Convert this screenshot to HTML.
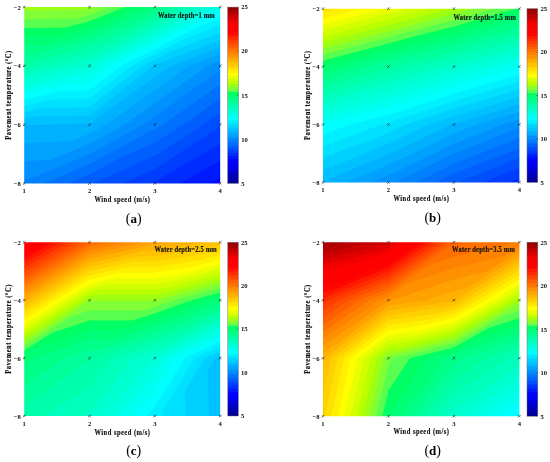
<!DOCTYPE html>
<html><head><meta charset="utf-8"><style>
html,body{margin:0;padding:0;background:#fff;}
body{width:550px;height:462px;overflow:hidden;}
svg{display:block;filter:blur(0.4px);}
.t{font-family:"Liberation Serif",serif;font-size:6.6px;font-weight:bold;fill:#111;}
.l{font-family:"Liberation Serif",serif;font-size:7.25px;font-weight:bold;fill:#111;stroke:#111;stroke-width:0.15px;}
.c{font-family:"Liberation Serif",serif;font-size:14px;fill:#000;}
.cb{font-weight:bold;font-size:13px;}
</style></head><body>
<svg width="550" height="462" viewBox="0 0 550 462">
<g>
<rect x="22.70" y="5.60" width="199.00" height="179.30" fill="#0007ff"/>
<path d="M22.70 5.60 89.53 5.60 22.70 65.87ZM89.53 5.60 89.53 65.87 22.70 65.87ZM89.53 5.60 154.87 5.60 89.53 65.87ZM154.87 5.60 154.87 65.87 89.53 65.87ZM154.87 5.60 221.70 5.60 154.87 65.87ZM221.70 5.60 221.70 65.87 154.87 65.87ZM22.70 65.87 89.53 65.87 22.70 124.63ZM89.53 65.87 89.53 124.63 22.70 124.63ZM89.53 65.87 154.87 65.87 89.53 124.63ZM154.87 65.87 154.87 124.63 89.53 124.63ZM154.87 65.87 221.70 65.87 154.87 124.63ZM221.70 65.87 221.70 124.63 154.87 124.63ZM22.70 124.63 89.53 124.63 22.70 184.90ZM89.53 124.63 89.53 184.90 22.70 184.90ZM89.53 124.63 154.87 124.63 89.53 184.90ZM154.87 124.63 154.87 184.90 89.53 184.90ZM154.87 124.63 221.70 124.63 154.87 184.90ZM221.70 124.63 221.70 176.49 206.93 184.90 154.87 184.90Z" fill="#001aff" stroke="#001aff" stroke-width="0.35"/>
<path d="M22.70 5.60 89.53 5.60 22.70 65.87ZM89.53 5.60 89.53 65.87 22.70 65.87ZM89.53 5.60 154.87 5.60 89.53 65.87ZM154.87 5.60 154.87 65.87 89.53 65.87ZM154.87 5.60 221.70 5.60 154.87 65.87ZM221.70 5.60 221.70 65.87 154.87 65.87ZM22.70 65.87 89.53 65.87 22.70 124.63ZM89.53 65.87 89.53 124.63 22.70 124.63ZM89.53 65.87 154.87 65.87 89.53 124.63ZM154.87 65.87 154.87 124.63 89.53 124.63ZM154.87 65.87 221.70 65.87 154.87 124.63ZM221.70 65.87 221.70 124.63 154.87 124.63ZM22.70 124.63 89.53 124.63 22.70 184.90ZM89.53 124.63 89.53 184.90 22.70 184.90ZM89.53 124.63 154.87 124.63 89.53 184.90ZM154.87 124.63 154.87 184.90 89.53 184.90ZM154.87 124.63 221.70 124.63 154.87 184.90ZM221.70 124.63 221.70 159.69 177.45 184.90 154.87 184.90Z" fill="#002cff" stroke="#002cff" stroke-width="0.35"/>
<path d="M22.70 5.60 89.53 5.60 22.70 65.87ZM89.53 5.60 89.53 65.87 22.70 65.87ZM89.53 5.60 154.87 5.60 89.53 65.87ZM154.87 5.60 154.87 65.87 89.53 65.87ZM154.87 5.60 221.70 5.60 154.87 65.87ZM221.70 5.60 221.70 65.87 154.87 65.87ZM22.70 65.87 89.53 65.87 22.70 124.63ZM89.53 65.87 89.53 124.63 22.70 124.63ZM89.53 65.87 154.87 65.87 89.53 124.63ZM154.87 65.87 154.87 124.63 89.53 124.63ZM154.87 65.87 221.70 65.87 154.87 124.63ZM221.70 65.87 221.70 124.63 154.87 124.63ZM22.70 124.63 89.53 124.63 22.70 184.90ZM89.53 124.63 89.53 184.90 22.70 184.90ZM89.53 124.63 154.87 124.63 89.53 184.90ZM154.87 124.63 154.87 181.83 147.93 184.90 89.53 184.90ZM154.87 124.63 221.70 124.63 166.72 174.21 154.87 181.83ZM221.70 124.63 221.70 142.89 166.72 174.21Z" fill="#003eff" stroke="#003eff" stroke-width="0.35"/>
<path d="M22.70 5.60 89.53 5.60 22.70 65.87ZM89.53 5.60 89.53 65.87 22.70 65.87ZM89.53 5.60 154.87 5.60 89.53 65.87ZM154.87 5.60 154.87 65.87 89.53 65.87ZM154.87 5.60 221.70 5.60 154.87 65.87ZM221.70 5.60 221.70 65.87 154.87 65.87ZM22.70 65.87 89.53 65.87 22.70 124.63ZM89.53 65.87 89.53 124.63 22.70 124.63ZM89.53 65.87 154.87 65.87 89.53 124.63ZM154.87 65.87 154.87 124.63 89.53 124.63ZM154.87 65.87 221.70 65.87 154.87 124.63ZM221.70 65.87 221.70 124.63 154.87 124.63ZM22.70 124.63 89.53 124.63 22.70 184.90ZM89.53 124.63 89.53 184.90 22.70 184.90ZM89.53 124.63 154.87 124.63 89.53 184.90ZM154.87 124.63 154.87 168.71 118.33 184.90 89.53 184.90ZM154.87 124.63 221.70 124.63 217.32 128.58 154.87 168.71ZM221.70 124.63 221.70 126.09 217.32 128.58Z" fill="#004fff" stroke="#004fff" stroke-width="0.35"/>
<path d="M22.70 5.60 89.53 5.60 22.70 65.87ZM89.53 5.60 89.53 65.87 22.70 65.87ZM89.53 5.60 154.87 5.60 89.53 65.87ZM154.87 5.60 154.87 65.87 89.53 65.87ZM154.87 5.60 221.70 5.60 154.87 65.87ZM221.70 5.60 221.70 65.87 154.87 65.87ZM22.70 65.87 89.53 65.87 22.70 124.63ZM89.53 65.87 89.53 124.63 22.70 124.63ZM89.53 65.87 154.87 65.87 89.53 124.63ZM154.87 65.87 154.87 124.63 89.53 124.63ZM154.87 65.87 221.70 65.87 154.87 124.63ZM221.70 65.87 221.70 111.71 203.05 124.63 154.87 124.63ZM22.70 124.63 89.53 124.63 22.70 184.90ZM89.53 124.63 89.53 184.62 88.86 184.90 22.70 184.90ZM89.53 124.63 154.87 124.63 90.27 184.22 89.53 184.62ZM154.87 124.63 154.87 155.59 90.27 184.22ZM154.87 124.63 203.05 124.63 154.87 155.59Z" fill="#005fff" stroke="#005fff" stroke-width="0.35"/>
<path d="M22.70 5.60 89.53 5.60 22.70 65.87ZM89.53 5.60 89.53 65.87 22.70 65.87ZM89.53 5.60 154.87 5.60 89.53 65.87ZM154.87 5.60 154.87 65.87 89.53 65.87ZM154.87 5.60 221.70 5.60 154.87 65.87ZM221.70 5.60 221.70 65.87 154.87 65.87ZM22.70 65.87 89.53 65.87 22.70 124.63ZM89.53 65.87 89.53 124.63 22.70 124.63ZM89.53 65.87 154.87 65.87 89.53 124.63ZM154.87 65.87 154.87 124.63 89.53 124.63ZM154.87 65.87 221.70 65.87 154.87 124.63ZM221.70 65.87 221.70 97.55 182.63 124.63 154.87 124.63ZM22.70 124.63 89.53 124.63 22.70 184.90ZM89.53 124.63 89.53 174.42 63.94 184.90 22.70 184.90ZM89.53 124.63 154.87 124.63 117.64 158.97 89.53 174.42ZM154.87 124.63 154.87 142.47 117.64 158.97ZM154.87 124.63 182.63 124.63 154.87 142.47Z" fill="#0070ff" stroke="#0070ff" stroke-width="0.35"/>
<path d="M22.70 5.60 89.53 5.60 22.70 65.87ZM89.53 5.60 89.53 65.87 22.70 65.87ZM89.53 5.60 154.87 5.60 89.53 65.87ZM154.87 5.60 154.87 65.87 89.53 65.87ZM154.87 5.60 221.70 5.60 154.87 65.87ZM221.70 5.60 221.70 65.87 154.87 65.87ZM22.70 65.87 89.53 65.87 22.70 124.63ZM89.53 65.87 89.53 124.63 22.70 124.63ZM89.53 65.87 154.87 65.87 89.53 124.63ZM154.87 65.87 154.87 124.63 89.53 124.63ZM154.87 65.87 221.70 65.87 154.87 124.63ZM221.70 65.87 221.70 83.40 162.22 124.63 154.87 124.63ZM22.70 124.63 89.53 124.63 22.70 184.90ZM89.53 124.63 89.53 164.22 39.01 184.90 22.70 184.90ZM89.53 124.63 154.87 124.63 145.01 133.72 89.53 164.22ZM154.87 124.63 154.87 129.36 145.01 133.72ZM154.87 124.63 162.22 124.63 154.87 129.36Z" fill="#0081ff" stroke="#0081ff" stroke-width="0.35"/>
<path d="M22.70 5.60 89.53 5.60 22.70 65.87ZM89.53 5.60 89.53 65.87 22.70 65.87ZM89.53 5.60 154.87 5.60 89.53 65.87ZM154.87 5.60 154.87 65.87 89.53 65.87ZM154.87 5.60 221.70 5.60 154.87 65.87ZM221.70 5.60 221.70 65.87 154.87 65.87ZM22.70 65.87 89.53 65.87 22.70 124.63ZM89.53 65.87 89.53 124.63 22.70 124.63ZM89.53 65.87 154.87 65.87 89.53 124.63ZM154.87 65.87 154.87 116.24 142.99 124.63 89.53 124.63ZM154.87 65.87 221.70 65.87 203.52 81.85 154.87 116.24ZM221.70 65.87 221.70 69.25 203.52 81.85ZM22.70 124.63 89.53 124.63 29.86 178.44 22.70 178.75ZM89.53 124.63 89.53 154.02 29.86 178.44ZM89.53 124.63 142.99 124.63 89.53 154.02Z" fill="#0091ff" stroke="#0091ff" stroke-width="0.35"/>
<path d="M22.70 5.60 89.53 5.60 22.70 65.87ZM89.53 5.60 89.53 65.87 22.70 65.87ZM89.53 5.60 154.87 5.60 89.53 65.87ZM154.87 5.60 154.87 65.87 89.53 65.87ZM154.87 5.60 221.70 5.60 154.87 65.87ZM221.70 5.60 221.70 60.45 207.58 65.87 154.87 65.87ZM22.70 65.87 89.53 65.87 22.70 124.63ZM89.53 65.87 89.53 124.63 22.70 124.63ZM89.53 65.87 154.87 65.87 89.53 124.63ZM154.87 65.87 154.87 103.12 124.43 124.63 89.53 124.63ZM154.87 65.87 207.58 65.87 154.87 103.12ZM22.70 124.63 89.53 124.63 50.58 159.76 22.70 160.97ZM89.53 124.63 89.53 143.81 50.58 159.76ZM89.53 124.63 124.43 124.63 89.53 143.81Z" fill="#00a1ff" stroke="#00a1ff" stroke-width="0.35"/>
<path d="M22.70 5.60 89.53 5.60 22.70 65.87ZM89.53 5.60 89.53 65.87 22.70 65.87ZM89.53 5.60 154.87 5.60 89.53 65.87ZM154.87 5.60 154.87 65.87 89.53 65.87ZM154.87 5.60 221.70 5.60 154.87 65.87ZM221.70 5.60 221.70 53.33 189.02 65.87 154.87 65.87ZM22.70 65.87 89.53 65.87 22.70 124.63ZM89.53 65.87 89.53 124.63 22.70 124.63ZM89.53 65.87 154.87 65.87 89.53 124.63ZM154.87 65.87 154.87 90.00 105.87 124.63 89.53 124.63ZM154.87 65.87 189.02 65.87 154.87 90.00ZM22.70 124.63 89.53 124.63 71.30 141.08 22.70 143.19ZM89.53 124.63 89.53 133.61 71.30 141.08ZM89.53 124.63 105.87 124.63 89.53 133.61Z" fill="#00b1ff" stroke="#00b1ff" stroke-width="0.35"/>
<path d="M22.70 5.60 89.53 5.60 22.70 65.87ZM89.53 5.60 89.53 65.87 22.70 65.87ZM89.53 5.60 154.87 5.60 89.53 65.87ZM154.87 5.60 154.87 65.87 89.53 65.87ZM154.87 5.60 221.70 5.60 154.87 65.87ZM221.70 5.60 221.70 46.21 170.46 65.87 154.87 65.87ZM22.70 65.87 89.53 65.87 22.70 124.63ZM89.53 65.87 89.53 123.63 40.53 124.63 22.70 124.63ZM89.53 65.87 154.87 65.87 97.70 117.29 89.53 123.63ZM154.87 65.87 154.87 76.89 97.70 117.29ZM154.87 65.87 170.46 65.87 154.87 76.89ZM22.70 124.63 40.53 124.63 22.70 125.41Z" fill="#00c1ff" stroke="#00c1ff" stroke-width="0.35"/>
<path d="M22.70 5.60 89.53 5.60 22.70 65.87ZM89.53 5.60 89.53 65.87 22.70 65.87ZM89.53 5.60 154.87 5.60 89.53 65.87ZM154.87 5.60 154.87 65.03 153.15 65.87 89.53 65.87ZM154.87 5.60 221.70 5.60 157.07 63.88 154.87 65.03ZM221.70 5.60 221.70 39.09 157.07 63.88ZM22.70 65.87 89.53 65.87 31.99 116.46 22.70 118.81ZM89.53 65.87 89.53 115.28 31.99 116.46ZM89.53 65.87 153.15 65.87 89.53 115.28Z" fill="#00d0ff" stroke="#00d0ff" stroke-width="0.35"/>
<path d="M22.70 5.60 89.53 5.60 22.70 65.87ZM89.53 5.60 89.53 65.87 22.70 65.87ZM89.53 5.60 154.87 5.60 89.53 65.87ZM154.87 5.60 154.87 59.78 142.40 65.87 89.53 65.87ZM154.87 5.60 221.70 5.60 170.81 51.49 154.87 59.78ZM221.70 5.60 221.70 31.97 170.81 51.49ZM22.70 65.87 89.53 65.87 41.71 107.91 22.70 112.73ZM89.53 65.87 89.53 106.94 41.71 107.91ZM89.53 65.87 142.40 65.87 89.53 106.94Z" fill="#00e0ff" stroke="#00e0ff" stroke-width="0.35"/>
<path d="M22.70 5.60 89.53 5.60 22.70 65.87ZM89.53 5.60 89.53 65.87 22.70 65.87ZM89.53 5.60 154.87 5.60 89.53 65.87ZM154.87 5.60 154.87 54.53 131.66 65.87 89.53 65.87ZM154.87 5.60 221.70 5.60 184.55 39.10 154.87 54.53ZM221.70 5.60 221.70 24.85 184.55 39.10ZM22.70 65.87 89.53 65.87 51.43 99.37 22.70 106.65ZM89.53 65.87 89.53 98.59 51.43 99.37ZM89.53 65.87 131.66 65.87 89.53 98.59Z" fill="#00f0ff" stroke="#00f0ff" stroke-width="0.35"/>
<path d="M22.70 5.60 89.53 5.60 22.70 65.87ZM89.53 5.60 89.53 65.87 22.70 65.87ZM89.53 5.60 154.87 5.60 89.53 65.87ZM154.87 5.60 154.87 49.29 120.91 65.87 89.53 65.87ZM154.87 5.60 221.70 5.60 198.29 26.71 154.87 49.29ZM221.70 5.60 221.70 17.73 198.29 26.71ZM22.70 65.87 89.53 65.87 61.15 90.82 22.70 100.56ZM89.53 65.87 89.53 90.24 61.15 90.82ZM89.53 65.87 120.91 65.87 89.53 90.24Z" fill="#00ffff" stroke="#00ffff" stroke-width="0.35"/>
<path d="M22.70 5.60 89.53 5.60 22.70 65.87ZM89.53 5.60 89.53 65.87 22.70 65.87ZM89.53 5.60 154.87 5.60 89.53 65.87ZM154.87 5.60 154.87 44.04 110.16 65.87 89.53 65.87ZM154.87 5.60 221.70 5.60 212.03 14.32 154.87 44.04ZM221.70 5.60 221.70 10.61 212.03 14.32ZM22.70 65.87 89.53 65.87 70.87 82.28 22.70 94.48ZM89.53 65.87 89.53 81.89 70.87 82.28ZM89.53 65.87 110.16 65.87 89.53 81.89Z" fill="#00ffef" stroke="#00ffef" stroke-width="0.35"/>
<path d="M22.70 5.60 89.53 5.60 22.70 65.87ZM89.53 5.60 89.53 65.87 22.70 65.87ZM89.53 5.60 154.87 5.60 89.53 65.87ZM154.87 5.60 154.87 38.79 99.42 65.87 89.53 65.87ZM154.87 5.60 218.71 5.60 154.87 38.79ZM22.70 65.87 89.53 65.87 80.59 73.73 22.70 88.39ZM89.53 65.87 89.53 73.55 80.59 73.73ZM89.53 65.87 99.42 65.87 89.53 73.55Z" fill="#00ffdf" stroke="#00ffdf" stroke-width="0.35"/>
<path d="M22.70 5.60 89.53 5.60 22.70 65.87ZM89.53 5.60 89.53 65.36 87.61 65.87 22.70 65.87ZM89.53 5.60 154.87 5.60 90.50 64.97 89.53 65.36ZM154.87 5.60 154.87 33.54 90.50 64.97ZM154.87 5.60 208.62 5.60 154.87 33.54ZM22.70 65.87 87.61 65.87 22.70 82.31Z" fill="#00ffce" stroke="#00ffce" stroke-width="0.35"/>
<path d="M22.70 5.60 89.53 5.60 22.70 65.87ZM89.53 5.60 89.53 59.03 63.59 65.87 22.70 65.87ZM89.53 5.60 154.87 5.60 102.59 53.83 89.53 59.03ZM154.87 5.60 154.87 28.30 102.59 53.83ZM154.87 5.60 198.53 5.60 154.87 28.30ZM22.70 65.87 63.59 65.87 22.70 76.22Z" fill="#00ffbd" stroke="#00ffbd" stroke-width="0.35"/>
<path d="M22.70 5.60 89.53 5.60 22.70 65.87ZM89.53 5.60 89.53 52.69 39.57 65.87 22.70 65.87ZM89.53 5.60 154.87 5.60 114.67 42.68 89.53 52.69ZM154.87 5.60 154.87 23.05 114.67 42.68ZM154.87 5.60 188.43 5.60 154.87 23.05ZM22.70 65.87 39.57 65.87 22.70 70.14Z" fill="#00ffac" stroke="#00ffac" stroke-width="0.35"/>
<path d="M22.70 5.60 89.53 5.60 25.65 63.20 22.70 63.24ZM89.53 5.60 89.53 46.36 25.65 63.20ZM89.53 5.60 154.87 5.60 126.76 31.53 89.53 46.36ZM154.87 5.60 154.87 17.80 126.76 31.53ZM154.87 5.60 178.34 5.60 154.87 17.80Z" fill="#00ff9b" stroke="#00ff9b" stroke-width="0.35"/>
<path d="M22.70 5.60 89.53 5.60 35.58 54.25 22.70 54.42ZM89.53 5.60 89.53 40.03 35.58 54.25ZM89.53 5.60 154.87 5.60 138.84 20.38 89.53 40.03ZM154.87 5.60 154.87 12.56 138.84 20.38ZM154.87 5.60 168.25 5.60 154.87 12.56Z" fill="#00ff89" stroke="#00ff89" stroke-width="0.35"/>
<path d="M22.70 5.60 89.53 5.60 45.50 45.31 22.70 45.60ZM89.53 5.60 89.53 33.70 45.50 45.31ZM89.53 5.60 154.87 5.60 150.93 9.23 89.53 33.70ZM154.87 5.60 154.87 7.31 150.93 9.23ZM154.87 5.60 158.16 5.60 154.87 7.31Z" fill="#00ff77" stroke="#00ff77" stroke-width="0.35"/>
<path d="M22.70 5.60 89.53 5.60 55.43 36.36 22.70 36.78ZM89.53 5.60 89.53 27.36 55.43 36.36ZM89.53 5.60 144.15 5.60 89.53 27.36Z" fill="#00ff64" stroke="#00ff64" stroke-width="0.35"/>
<path d="M22.70 5.60 89.53 5.60 65.35 27.41 22.70 27.95ZM89.53 5.60 89.53 21.03 65.35 27.41ZM89.53 5.60 128.26 5.60 89.53 21.03Z" fill="#59ff4f" stroke="#59ff4f" stroke-width="0.35"/>
<path d="M22.70 5.60 89.53 5.60 75.27 18.46 22.70 19.13ZM89.53 5.60 89.53 14.70 75.27 18.46ZM89.53 5.60 112.37 5.60 89.53 14.70Z" fill="#80ff37" stroke="#80ff37" stroke-width="0.35"/>
<path d="M22.70 5.60 89.53 5.60 85.20 9.51 22.70 10.31ZM89.53 5.60 89.53 8.37 85.20 9.51ZM89.53 5.60 96.48 5.60 89.53 8.37Z" fill="#9fff13" stroke="#9fff13" stroke-width="0.35"/>
</g>
<path fill="#fff" fill-rule="evenodd" d="M21.20 4.10H223.20V186.40H21.20ZM24.20 7.10H220.20V183.40H24.20Z"/>
<path d="M22.90 5.80L25.50 8.40" stroke="#333" stroke-width="0.45"/><path d="M22.90 8.40L25.50 5.80" stroke="#111" stroke-width="0.65"/>
<path d="M88.23 5.80L90.83 8.40" stroke="#333" stroke-width="0.45"/><path d="M88.23 8.40L90.83 5.80" stroke="#111" stroke-width="0.65"/>
<path d="M153.57 5.80L156.17 8.40" stroke="#333" stroke-width="0.45"/><path d="M153.57 8.40L156.17 5.80" stroke="#111" stroke-width="0.65"/>
<path d="M218.90 5.80L221.50 8.40" stroke="#333" stroke-width="0.45"/><path d="M218.90 8.40L221.50 5.80" stroke="#111" stroke-width="0.65"/>
<path d="M22.90 64.57L25.50 67.17" stroke="#333" stroke-width="0.45"/><path d="M22.90 67.17L25.50 64.57" stroke="#111" stroke-width="0.65"/>
<path d="M88.23 64.57L90.83 67.17" stroke="#333" stroke-width="0.45"/><path d="M88.23 67.17L90.83 64.57" stroke="#111" stroke-width="0.65"/>
<path d="M153.57 64.57L156.17 67.17" stroke="#333" stroke-width="0.45"/><path d="M153.57 67.17L156.17 64.57" stroke="#111" stroke-width="0.65"/>
<path d="M218.90 64.57L221.50 67.17" stroke="#333" stroke-width="0.45"/><path d="M218.90 67.17L221.50 64.57" stroke="#111" stroke-width="0.65"/>
<path d="M22.90 123.33L25.50 125.93" stroke="#333" stroke-width="0.45"/><path d="M22.90 125.93L25.50 123.33" stroke="#111" stroke-width="0.65"/>
<path d="M88.23 123.33L90.83 125.93" stroke="#333" stroke-width="0.45"/><path d="M88.23 125.93L90.83 123.33" stroke="#111" stroke-width="0.65"/>
<path d="M153.57 123.33L156.17 125.93" stroke="#333" stroke-width="0.45"/><path d="M153.57 125.93L156.17 123.33" stroke="#111" stroke-width="0.65"/>
<path d="M218.90 123.33L221.50 125.93" stroke="#333" stroke-width="0.45"/><path d="M218.90 125.93L221.50 123.33" stroke="#111" stroke-width="0.65"/>
<path d="M22.90 182.10L25.50 184.70" stroke="#333" stroke-width="0.45"/><path d="M22.90 184.70L25.50 182.10" stroke="#111" stroke-width="0.65"/>
<path d="M88.23 182.10L90.83 184.70" stroke="#333" stroke-width="0.45"/><path d="M88.23 184.70L90.83 182.10" stroke="#111" stroke-width="0.65"/>
<path d="M153.57 182.10L156.17 184.70" stroke="#333" stroke-width="0.45"/><path d="M153.57 184.70L156.17 182.10" stroke="#111" stroke-width="0.65"/>
<path d="M218.90 182.10L221.50 184.70" stroke="#333" stroke-width="0.45"/><path d="M218.90 184.70L221.50 182.10" stroke="#111" stroke-width="0.65"/>
<defs><linearGradient id="cb227" x1="0" y1="0" x2="0" y2="1"><stop offset="0.0000%" stop-color="#960000"/><stop offset="1.5625%" stop-color="#960000"/><stop offset="1.5625%" stop-color="#a90000"/><stop offset="3.1250%" stop-color="#a90000"/><stop offset="3.1250%" stop-color="#bb0000"/><stop offset="4.6875%" stop-color="#bb0000"/><stop offset="4.6875%" stop-color="#cd0000"/><stop offset="6.2500%" stop-color="#cd0000"/><stop offset="6.2500%" stop-color="#e00000"/><stop offset="7.8125%" stop-color="#e00000"/><stop offset="7.8125%" stop-color="#f20000"/><stop offset="9.3750%" stop-color="#f20000"/><stop offset="9.3750%" stop-color="#ff0000"/><stop offset="10.9375%" stop-color="#ff0000"/><stop offset="10.9375%" stop-color="#ff0000"/><stop offset="12.5000%" stop-color="#ff0000"/><stop offset="12.5000%" stop-color="#ff0000"/><stop offset="14.0625%" stop-color="#ff0000"/><stop offset="14.0625%" stop-color="#ff0700"/><stop offset="15.6250%" stop-color="#ff0700"/><stop offset="15.6250%" stop-color="#ff1a00"/><stop offset="17.1875%" stop-color="#ff1a00"/><stop offset="17.1875%" stop-color="#ff2c00"/><stop offset="18.7500%" stop-color="#ff2c00"/><stop offset="18.7500%" stop-color="#ff3e00"/><stop offset="20.3125%" stop-color="#ff3e00"/><stop offset="20.3125%" stop-color="#ff4f00"/><stop offset="21.8750%" stop-color="#ff4f00"/><stop offset="21.8750%" stop-color="#ff5f00"/><stop offset="23.4375%" stop-color="#ff5f00"/><stop offset="23.4375%" stop-color="#ff7000"/><stop offset="25.0000%" stop-color="#ff7000"/><stop offset="25.0000%" stop-color="#ff8100"/><stop offset="26.5625%" stop-color="#ff8100"/><stop offset="26.5625%" stop-color="#ff9100"/><stop offset="28.1250%" stop-color="#ff9100"/><stop offset="28.1250%" stop-color="#ffa100"/><stop offset="29.6875%" stop-color="#ffa100"/><stop offset="29.6875%" stop-color="#ffb100"/><stop offset="31.2500%" stop-color="#ffb100"/><stop offset="31.2500%" stop-color="#ffc100"/><stop offset="32.8125%" stop-color="#ffc100"/><stop offset="32.8125%" stop-color="#ffd000"/><stop offset="34.3750%" stop-color="#ffd000"/><stop offset="34.3750%" stop-color="#ffe000"/><stop offset="35.9375%" stop-color="#ffe000"/><stop offset="35.9375%" stop-color="#fff000"/><stop offset="37.5000%" stop-color="#fff000"/><stop offset="37.5000%" stop-color="#ffff00"/><stop offset="39.0625%" stop-color="#ffff00"/><stop offset="39.0625%" stop-color="#e9ff00"/><stop offset="40.6250%" stop-color="#e9ff00"/><stop offset="40.6250%" stop-color="#d2ff00"/><stop offset="42.1875%" stop-color="#d2ff00"/><stop offset="42.1875%" stop-color="#b9ff00"/><stop offset="43.7500%" stop-color="#b9ff00"/><stop offset="43.7500%" stop-color="#9fff13"/><stop offset="45.3125%" stop-color="#9fff13"/><stop offset="45.3125%" stop-color="#80ff37"/><stop offset="46.8750%" stop-color="#80ff37"/><stop offset="46.8750%" stop-color="#59ff4f"/><stop offset="48.4375%" stop-color="#59ff4f"/><stop offset="48.4375%" stop-color="#00ff64"/><stop offset="50.0000%" stop-color="#00ff64"/><stop offset="50.0000%" stop-color="#00ff77"/><stop offset="51.5625%" stop-color="#00ff77"/><stop offset="51.5625%" stop-color="#00ff89"/><stop offset="53.1250%" stop-color="#00ff89"/><stop offset="53.1250%" stop-color="#00ff9b"/><stop offset="54.6875%" stop-color="#00ff9b"/><stop offset="54.6875%" stop-color="#00ffac"/><stop offset="56.2500%" stop-color="#00ffac"/><stop offset="56.2500%" stop-color="#00ffbd"/><stop offset="57.8125%" stop-color="#00ffbd"/><stop offset="57.8125%" stop-color="#00ffce"/><stop offset="59.3750%" stop-color="#00ffce"/><stop offset="59.3750%" stop-color="#00ffdf"/><stop offset="60.9375%" stop-color="#00ffdf"/><stop offset="60.9375%" stop-color="#00ffef"/><stop offset="62.5000%" stop-color="#00ffef"/><stop offset="62.5000%" stop-color="#00ffff"/><stop offset="64.0625%" stop-color="#00ffff"/><stop offset="64.0625%" stop-color="#00f0ff"/><stop offset="65.6250%" stop-color="#00f0ff"/><stop offset="65.6250%" stop-color="#00e0ff"/><stop offset="67.1875%" stop-color="#00e0ff"/><stop offset="67.1875%" stop-color="#00d0ff"/><stop offset="68.7500%" stop-color="#00d0ff"/><stop offset="68.7500%" stop-color="#00c1ff"/><stop offset="70.3125%" stop-color="#00c1ff"/><stop offset="70.3125%" stop-color="#00b1ff"/><stop offset="71.8750%" stop-color="#00b1ff"/><stop offset="71.8750%" stop-color="#00a1ff"/><stop offset="73.4375%" stop-color="#00a1ff"/><stop offset="73.4375%" stop-color="#0091ff"/><stop offset="75.0000%" stop-color="#0091ff"/><stop offset="75.0000%" stop-color="#0081ff"/><stop offset="76.5625%" stop-color="#0081ff"/><stop offset="76.5625%" stop-color="#0070ff"/><stop offset="78.1250%" stop-color="#0070ff"/><stop offset="78.1250%" stop-color="#005fff"/><stop offset="79.6875%" stop-color="#005fff"/><stop offset="79.6875%" stop-color="#004fff"/><stop offset="81.2500%" stop-color="#004fff"/><stop offset="81.2500%" stop-color="#003eff"/><stop offset="82.8125%" stop-color="#003eff"/><stop offset="82.8125%" stop-color="#002cff"/><stop offset="84.3750%" stop-color="#002cff"/><stop offset="84.3750%" stop-color="#001aff"/><stop offset="85.9375%" stop-color="#001aff"/><stop offset="85.9375%" stop-color="#0007ff"/><stop offset="87.5000%" stop-color="#0007ff"/><stop offset="87.5000%" stop-color="#0000ff"/><stop offset="89.0625%" stop-color="#0000ff"/><stop offset="89.0625%" stop-color="#0000f4"/><stop offset="90.6250%" stop-color="#0000f4"/><stop offset="90.6250%" stop-color="#0000e4"/><stop offset="92.1875%" stop-color="#0000e4"/><stop offset="92.1875%" stop-color="#0000d4"/><stop offset="93.7500%" stop-color="#0000d4"/><stop offset="93.7500%" stop-color="#0000c4"/><stop offset="95.3125%" stop-color="#0000c4"/><stop offset="95.3125%" stop-color="#0000b4"/><stop offset="96.8750%" stop-color="#0000b4"/><stop offset="96.8750%" stop-color="#0000a4"/><stop offset="98.4375%" stop-color="#0000a4"/><stop offset="98.4375%" stop-color="#000094"/><stop offset="100.0000%" stop-color="#000094"/></linearGradient></defs>
<rect x="227.70" y="7.10" width="10.80" height="176.30" fill="url(#cb227)"/>
<rect x="227.70" y="7.10" width="10.80" height="176.30" fill="none" stroke="#666" stroke-width="0.45"/>
<text x="241.20" y="185.70" class="t">5</text>
<path d="M238.50 139.32h-1.4" stroke="#333" stroke-width="0.5"/>
<text x="241.20" y="141.62" class="t">10</text>
<path d="M238.50 95.25h-1.4" stroke="#333" stroke-width="0.5"/>
<text x="241.20" y="97.55" class="t">15</text>
<path d="M238.50 51.17h-1.4" stroke="#333" stroke-width="0.5"/>
<text x="241.20" y="53.47" class="t">20</text>
<text x="241.20" y="9.40" class="t">25</text>
<text x="24.20" y="193.20" class="t" text-anchor="middle">1</text>
<text x="89.53" y="193.20" class="t" text-anchor="middle">2</text>
<text x="154.87" y="193.20" class="t" text-anchor="middle">3</text>
<text x="220.20" y="193.20" class="t" text-anchor="middle">4</text>
<text x="20.80" y="9.70" class="t" text-anchor="end">−2</text>
<text x="20.80" y="68.47" class="t" text-anchor="end">−4</text>
<text x="20.80" y="127.23" class="t" text-anchor="end">−6</text>
<text x="20.80" y="186.00" class="t" text-anchor="end">−8</text>
<text transform="translate(122.20 202.10) scale(0.900 1)" class="l" text-anchor="middle" textLength="61.67" lengthAdjust="spacing">Wind speed (m/s)</text>
<text transform="translate(11.00 95.25) rotate(-90) scale(0.900 1)" class="l" text-anchor="middle" textLength="98.89" lengthAdjust="spacing">Pavement temperature (°C)</text>
<text transform="translate(214.70 17.70) scale(0.900 1)" class="l" text-anchor="end" textLength="63.11" lengthAdjust="spacing">Water depth=1 mm</text>
<text x="133.70" y="222.90" class="c" text-anchor="middle">(<tspan class="cb">a</tspan>)</text>
<g>
<rect x="321.50" y="7.20" width="199.40" height="176.70" fill="#002cff"/>
<path d="M321.50 7.20 388.47 7.20 321.50 66.60ZM388.47 7.20 388.47 66.60 321.50 66.60ZM388.47 7.20 453.93 7.20 388.47 66.60ZM453.93 7.20 453.93 66.60 388.47 66.60ZM453.93 7.20 520.90 7.20 453.93 66.60ZM520.90 7.20 520.90 66.60 453.93 66.60ZM321.50 66.60 388.47 66.60 321.50 124.50ZM388.47 66.60 388.47 124.50 321.50 124.50ZM388.47 66.60 453.93 66.60 388.47 124.50ZM453.93 66.60 453.93 124.50 388.47 124.50ZM453.93 66.60 520.90 66.60 453.93 124.50ZM520.90 66.60 520.90 124.50 453.93 124.50ZM321.50 124.50 388.47 124.50 321.50 183.90ZM388.47 124.50 388.47 183.90 321.50 183.90ZM388.47 124.50 453.93 124.50 388.47 183.90ZM453.93 124.50 453.93 183.90 388.47 183.90ZM453.93 124.50 520.90 124.50 453.93 183.90ZM520.90 124.50 520.90 177.39 504.33 183.90 453.93 183.90Z" fill="#003eff" stroke="#003eff" stroke-width="0.35"/>
<path d="M321.50 7.20 388.47 7.20 321.50 66.60ZM388.47 7.20 388.47 66.60 321.50 66.60ZM388.47 7.20 453.93 7.20 388.47 66.60ZM453.93 7.20 453.93 66.60 388.47 66.60ZM453.93 7.20 520.90 7.20 453.93 66.60ZM520.90 7.20 520.90 66.60 453.93 66.60ZM321.50 66.60 388.47 66.60 321.50 124.50ZM388.47 66.60 388.47 124.50 321.50 124.50ZM388.47 66.60 453.93 66.60 388.47 124.50ZM453.93 66.60 453.93 124.50 388.47 124.50ZM453.93 66.60 520.90 66.60 453.93 124.50ZM520.90 66.60 520.90 124.50 453.93 124.50ZM321.50 124.50 388.47 124.50 321.50 183.90ZM388.47 124.50 388.47 183.90 321.50 183.90ZM388.47 124.50 453.93 124.50 388.47 183.90ZM453.93 124.50 453.93 183.90 388.47 183.90ZM453.93 124.50 520.90 124.50 453.93 183.90ZM520.90 124.50 520.90 167.34 478.76 183.90 453.93 183.90Z" fill="#004fff" stroke="#004fff" stroke-width="0.35"/>
<path d="M321.50 7.20 388.47 7.20 321.50 66.60ZM388.47 7.20 388.47 66.60 321.50 66.60ZM388.47 7.20 453.93 7.20 388.47 66.60ZM453.93 7.20 453.93 66.60 388.47 66.60ZM453.93 7.20 520.90 7.20 453.93 66.60ZM520.90 7.20 520.90 66.60 453.93 66.60ZM321.50 66.60 388.47 66.60 321.50 124.50ZM388.47 66.60 388.47 124.50 321.50 124.50ZM388.47 66.60 453.93 66.60 388.47 124.50ZM453.93 66.60 453.93 124.50 388.47 124.50ZM453.93 66.60 520.90 66.60 453.93 124.50ZM520.90 66.60 520.90 124.50 453.93 124.50ZM321.50 124.50 388.47 124.50 321.50 183.90ZM388.47 124.50 388.47 183.90 321.50 183.90ZM388.47 124.50 453.93 124.50 388.47 183.90ZM453.93 124.50 453.93 183.61 453.34 183.90 388.47 183.90ZM453.93 124.50 520.90 124.50 454.53 183.37 453.93 183.61ZM520.90 124.50 520.90 157.28 454.53 183.37Z" fill="#005fff" stroke="#005fff" stroke-width="0.35"/>
<path d="M321.50 7.20 388.47 7.20 321.50 66.60ZM388.47 7.20 388.47 66.60 321.50 66.60ZM388.47 7.20 453.93 7.20 388.47 66.60ZM453.93 7.20 453.93 66.60 388.47 66.60ZM453.93 7.20 520.90 7.20 453.93 66.60ZM520.90 7.20 520.90 66.60 453.93 66.60ZM321.50 66.60 388.47 66.60 321.50 124.50ZM388.47 66.60 388.47 124.50 321.50 124.50ZM388.47 66.60 453.93 66.60 388.47 124.50ZM453.93 66.60 453.93 124.50 388.47 124.50ZM453.93 66.60 520.90 66.60 453.93 124.50ZM520.90 66.60 520.90 124.50 453.93 124.50ZM321.50 124.50 388.47 124.50 321.50 183.90ZM388.47 124.50 388.47 183.90 321.50 183.90ZM388.47 124.50 453.93 124.50 388.47 183.90ZM453.93 124.50 453.93 173.55 432.93 183.90 388.47 183.90ZM453.93 124.50 520.90 124.50 474.88 165.32 453.93 173.55ZM520.90 124.50 520.90 147.23 474.88 165.32Z" fill="#0070ff" stroke="#0070ff" stroke-width="0.35"/>
<path d="M321.50 7.20 388.47 7.20 321.50 66.60ZM388.47 7.20 388.47 66.60 321.50 66.60ZM388.47 7.20 453.93 7.20 388.47 66.60ZM453.93 7.20 453.93 66.60 388.47 66.60ZM453.93 7.20 520.90 7.20 453.93 66.60ZM520.90 7.20 520.90 66.60 453.93 66.60ZM321.50 66.60 388.47 66.60 321.50 124.50ZM388.47 66.60 388.47 124.50 321.50 124.50ZM388.47 66.60 453.93 66.60 388.47 124.50ZM453.93 66.60 453.93 124.50 388.47 124.50ZM453.93 66.60 520.90 66.60 453.93 124.50ZM520.90 66.60 520.90 124.50 453.93 124.50ZM321.50 124.50 388.47 124.50 321.50 183.90ZM388.47 124.50 388.47 183.90 321.50 183.90ZM388.47 124.50 453.93 124.50 388.47 183.90ZM453.93 124.50 453.93 163.50 412.53 183.90 388.47 183.90ZM453.93 124.50 520.90 124.50 495.23 147.27 453.93 163.50ZM520.90 124.50 520.90 137.18 495.23 147.27Z" fill="#0081ff" stroke="#0081ff" stroke-width="0.35"/>
<path d="M321.50 7.20 388.47 7.20 321.50 66.60ZM388.47 7.20 388.47 66.60 321.50 66.60ZM388.47 7.20 453.93 7.20 388.47 66.60ZM453.93 7.20 453.93 66.60 388.47 66.60ZM453.93 7.20 520.90 7.20 453.93 66.60ZM520.90 7.20 520.90 66.60 453.93 66.60ZM321.50 66.60 388.47 66.60 321.50 124.50ZM388.47 66.60 388.47 124.50 321.50 124.50ZM388.47 66.60 453.93 66.60 388.47 124.50ZM453.93 66.60 453.93 124.50 388.47 124.50ZM453.93 66.60 520.90 66.60 453.93 124.50ZM520.90 66.60 520.90 124.50 453.93 124.50ZM321.50 124.50 388.47 124.50 321.50 183.90ZM388.47 124.50 388.47 183.90 321.50 183.90ZM388.47 124.50 453.93 124.50 388.47 183.90ZM453.93 124.50 453.93 153.45 392.12 183.90 388.47 183.90ZM453.93 124.50 520.90 124.50 515.58 129.22 453.93 153.45ZM520.90 124.50 520.90 127.13 515.58 129.22Z" fill="#0091ff" stroke="#0091ff" stroke-width="0.35"/>
<path d="M321.50 7.20 388.47 7.20 321.50 66.60ZM388.47 7.20 388.47 66.60 321.50 66.60ZM388.47 7.20 453.93 7.20 388.47 66.60ZM453.93 7.20 453.93 66.60 388.47 66.60ZM453.93 7.20 520.90 7.20 453.93 66.60ZM520.90 7.20 520.90 66.60 453.93 66.60ZM321.50 66.60 388.47 66.60 321.50 124.50ZM388.47 66.60 388.47 124.50 321.50 124.50ZM388.47 66.60 453.93 66.60 388.47 124.50ZM453.93 66.60 453.93 124.50 388.47 124.50ZM453.93 66.60 520.90 66.60 453.93 124.50ZM520.90 66.60 520.90 118.93 502.01 124.50 453.93 124.50ZM321.50 124.50 388.47 124.50 321.50 183.90ZM388.47 124.50 388.47 175.16 367.57 183.90 321.50 183.90ZM388.47 124.50 453.93 124.50 408.36 165.85 388.47 175.16ZM453.93 124.50 453.93 143.40 408.36 165.85ZM453.93 124.50 502.01 124.50 453.93 143.40Z" fill="#00a1ff" stroke="#00a1ff" stroke-width="0.35"/>
<path d="M321.50 7.20 388.47 7.20 321.50 66.60ZM388.47 7.20 388.47 66.60 321.50 66.60ZM388.47 7.20 453.93 7.20 388.47 66.60ZM453.93 7.20 453.93 66.60 388.47 66.60ZM453.93 7.20 520.90 7.20 453.93 66.60ZM520.90 7.20 520.90 66.60 453.93 66.60ZM321.50 66.60 388.47 66.60 321.50 124.50ZM388.47 66.60 388.47 124.50 321.50 124.50ZM388.47 66.60 453.93 66.60 388.47 124.50ZM453.93 66.60 453.93 124.50 388.47 124.50ZM453.93 66.60 520.90 66.60 453.93 124.50ZM520.90 66.60 520.90 111.39 476.44 124.50 453.93 124.50ZM321.50 124.50 388.47 124.50 321.50 183.90ZM388.47 124.50 388.47 164.52 342.13 183.90 321.50 183.90ZM388.47 124.50 453.93 124.50 432.60 143.85 388.47 164.52ZM453.93 124.50 453.93 133.35 432.60 143.85ZM453.93 124.50 476.44 124.50 453.93 133.35Z" fill="#00b1ff" stroke="#00b1ff" stroke-width="0.35"/>
<path d="M321.50 7.20 388.47 7.20 321.50 66.60ZM388.47 7.20 388.47 66.60 321.50 66.60ZM388.47 7.20 453.93 7.20 388.47 66.60ZM453.93 7.20 453.93 66.60 388.47 66.60ZM453.93 7.20 520.90 7.20 453.93 66.60ZM520.90 7.20 520.90 66.60 453.93 66.60ZM321.50 66.60 388.47 66.60 321.50 124.50ZM388.47 66.60 388.47 124.50 321.50 124.50ZM388.47 66.60 453.93 66.60 388.47 124.50ZM453.93 66.60 453.93 123.60 451.21 124.50 388.47 124.50ZM453.93 66.60 520.90 66.60 455.52 123.13 453.93 123.60ZM520.90 66.60 520.90 103.85 455.52 123.13ZM321.50 124.50 388.47 124.50 325.80 180.08 321.50 181.68ZM388.47 124.50 388.47 153.88 325.80 180.08ZM388.47 124.50 451.21 124.50 388.47 153.88Z" fill="#00c1ff" stroke="#00c1ff" stroke-width="0.35"/>
<path d="M321.50 7.20 388.47 7.20 321.50 66.60ZM388.47 7.20 388.47 66.60 321.50 66.60ZM388.47 7.20 453.93 7.20 388.47 66.60ZM453.93 7.20 453.93 66.60 388.47 66.60ZM453.93 7.20 520.90 7.20 453.93 66.60ZM520.90 7.20 520.90 66.60 453.93 66.60ZM321.50 66.60 388.47 66.60 321.50 124.50ZM388.47 66.60 388.47 124.50 321.50 124.50ZM388.47 66.60 453.93 66.60 388.47 124.50ZM453.93 66.60 453.93 116.06 428.47 124.50 388.47 124.50ZM453.93 66.60 520.90 66.60 468.75 111.69 453.93 116.06ZM520.90 66.60 520.90 96.31 468.75 111.69ZM321.50 124.50 388.47 124.50 348.51 159.94 321.50 169.98ZM388.47 124.50 388.47 143.23 348.51 159.94ZM388.47 124.50 428.47 124.50 388.47 143.23Z" fill="#00d0ff" stroke="#00d0ff" stroke-width="0.35"/>
<path d="M321.50 7.20 388.47 7.20 321.50 66.60ZM388.47 7.20 388.47 66.60 321.50 66.60ZM388.47 7.20 453.93 7.20 388.47 66.60ZM453.93 7.20 453.93 66.60 388.47 66.60ZM453.93 7.20 520.90 7.20 453.93 66.60ZM520.90 7.20 520.90 66.60 453.93 66.60ZM321.50 66.60 388.47 66.60 321.50 124.50ZM388.47 66.60 388.47 124.50 321.50 124.50ZM388.47 66.60 453.93 66.60 388.47 124.50ZM453.93 66.60 453.93 108.52 405.74 124.50 388.47 124.50ZM453.93 66.60 520.90 66.60 481.98 100.25 453.93 108.52ZM520.90 66.60 520.90 88.77 481.98 100.25ZM321.50 124.50 388.47 124.50 371.21 139.81 321.50 158.28ZM388.47 124.50 388.47 132.59 371.21 139.81ZM388.47 124.50 405.74 124.50 388.47 132.59Z" fill="#00e0ff" stroke="#00e0ff" stroke-width="0.35"/>
<path d="M321.50 7.20 388.47 7.20 321.50 66.60ZM388.47 7.20 388.47 66.60 321.50 66.60ZM388.47 7.20 453.93 7.20 388.47 66.60ZM453.93 7.20 453.93 66.60 388.47 66.60ZM453.93 7.20 520.90 7.20 453.93 66.60ZM520.90 7.20 520.90 66.60 453.93 66.60ZM321.50 66.60 388.47 66.60 321.50 124.50ZM388.47 66.60 388.47 122.61 380.91 124.50 321.50 124.50ZM388.47 66.60 453.93 66.60 391.74 121.61 388.47 122.61ZM453.93 66.60 453.93 100.98 391.74 121.61ZM453.93 66.60 520.90 66.60 495.21 88.81 453.93 100.98ZM520.90 66.60 520.90 81.24 495.21 88.81ZM321.50 124.50 380.91 124.50 321.50 146.58Z" fill="#00f0ff" stroke="#00f0ff" stroke-width="0.35"/>
<path d="M321.50 7.20 388.47 7.20 321.50 66.60ZM388.47 7.20 388.47 66.60 321.50 66.60ZM388.47 7.20 453.93 7.20 388.47 66.60ZM453.93 7.20 453.93 66.60 388.47 66.60ZM453.93 7.20 520.90 7.20 453.93 66.60ZM520.90 7.20 520.90 66.60 453.93 66.60ZM321.50 66.60 388.47 66.60 321.50 124.50ZM388.47 66.60 388.47 114.75 349.44 124.50 321.50 124.50ZM388.47 66.60 453.93 66.60 405.38 109.54 388.47 114.75ZM453.93 66.60 453.93 93.44 405.38 109.54ZM453.93 66.60 520.90 66.60 508.45 77.37 453.93 93.44ZM520.90 66.60 520.90 73.70 508.45 77.37ZM321.50 124.50 349.44 124.50 321.50 134.89Z" fill="#00ffff" stroke="#00ffff" stroke-width="0.35"/>
<path d="M321.50 7.20 388.47 7.20 321.50 66.60ZM388.47 7.20 388.47 66.60 321.50 66.60ZM388.47 7.20 453.93 7.20 388.47 66.60ZM453.93 7.20 453.93 66.60 388.47 66.60ZM453.93 7.20 520.90 7.20 453.93 66.60ZM520.90 7.20 520.90 66.21 519.40 66.60 453.93 66.60ZM321.50 66.60 388.47 66.60 322.94 123.26 321.50 123.70ZM388.47 66.60 388.47 106.88 322.94 123.26ZM388.47 66.60 453.93 66.60 419.02 97.48 388.47 106.88ZM453.93 66.60 453.93 85.90 419.02 97.48ZM453.93 66.60 519.40 66.60 453.93 85.90Z" fill="#00ffef" stroke="#00ffef" stroke-width="0.35"/>
<path d="M321.50 7.20 388.47 7.20 321.50 66.60ZM388.47 7.20 388.47 66.60 321.50 66.60ZM388.47 7.20 453.93 7.20 388.47 66.60ZM453.93 7.20 453.93 66.60 388.47 66.60ZM453.93 7.20 520.90 7.20 453.93 66.60ZM520.90 7.20 520.90 59.63 493.83 66.60 453.93 66.60ZM321.50 66.60 388.47 66.60 335.74 112.19 321.50 116.62ZM388.47 66.60 388.47 99.01 335.74 112.19ZM388.47 66.60 453.93 66.60 432.66 85.42 388.47 99.01ZM453.93 66.60 453.93 78.36 432.66 85.42ZM453.93 66.60 493.83 66.60 453.93 78.36Z" fill="#00ffdf" stroke="#00ffdf" stroke-width="0.35"/>
<path d="M321.50 7.20 388.47 7.20 321.50 66.60ZM388.47 7.20 388.47 66.60 321.50 66.60ZM388.47 7.20 453.93 7.20 388.47 66.60ZM453.93 7.20 453.93 66.60 388.47 66.60ZM453.93 7.20 520.90 7.20 453.93 66.60ZM520.90 7.20 520.90 53.04 468.25 66.60 453.93 66.60ZM321.50 66.60 388.47 66.60 348.54 101.13 321.50 109.55ZM388.47 66.60 388.47 91.14 348.54 101.13ZM388.47 66.60 453.93 66.60 446.30 73.36 388.47 91.14ZM453.93 66.60 453.93 70.82 446.30 73.36ZM453.93 66.60 468.25 66.60 453.93 70.82Z" fill="#00ffce" stroke="#00ffce" stroke-width="0.35"/>
<path d="M321.50 7.20 388.47 7.20 321.50 66.60ZM388.47 7.20 388.47 66.60 321.50 66.60ZM388.47 7.20 453.93 7.20 388.47 66.60ZM453.93 7.20 453.93 63.85 442.68 66.60 388.47 66.60ZM453.93 7.20 520.90 7.20 458.54 62.51 453.93 63.85ZM520.90 7.20 520.90 46.45 458.54 62.51ZM321.50 66.60 388.47 66.60 361.33 90.06 321.50 102.47ZM388.47 66.60 388.47 83.28 361.33 90.06ZM388.47 66.60 442.68 66.60 388.47 83.28Z" fill="#00ffbd" stroke="#00ffbd" stroke-width="0.35"/>
<path d="M321.50 7.20 388.47 7.20 321.50 66.60ZM388.47 7.20 388.47 66.60 321.50 66.60ZM388.47 7.20 453.93 7.20 388.47 66.60ZM453.93 7.20 453.93 57.62 417.11 66.60 388.47 66.60ZM453.93 7.20 520.90 7.20 469.01 53.23 453.93 57.62ZM520.90 7.20 520.90 39.86 469.01 53.23ZM321.50 66.60 388.47 66.60 374.13 78.99 321.50 95.39ZM388.47 66.60 388.47 75.41 374.13 78.99ZM388.47 66.60 417.11 66.60 388.47 75.41Z" fill="#00ffac" stroke="#00ffac" stroke-width="0.35"/>
<path d="M321.50 7.20 388.47 7.20 321.50 66.60ZM388.47 7.20 388.47 66.60 321.50 66.60ZM388.47 7.20 453.93 7.20 388.47 66.60ZM453.93 7.20 453.93 51.38 391.54 66.60 388.47 66.60ZM453.93 7.20 520.90 7.20 479.47 43.95 453.93 51.38ZM520.90 7.20 520.90 33.27 479.47 43.95ZM321.50 66.60 388.47 66.60 386.93 67.93 321.50 88.31ZM388.47 66.60 388.47 67.54 386.93 67.93ZM388.47 66.60 391.54 66.60 388.47 67.54Z" fill="#00ff9b" stroke="#00ff9b" stroke-width="0.35"/>
<path d="M321.50 7.20 388.47 7.20 321.50 66.60ZM388.47 7.20 388.47 61.29 368.46 66.60 321.50 66.60ZM388.47 7.20 453.93 7.20 396.74 59.09 388.47 61.29ZM453.93 7.20 453.93 45.14 396.74 59.09ZM453.93 7.20 520.90 7.20 489.94 34.66 453.93 45.14ZM520.90 7.20 520.90 26.69 489.94 34.66ZM321.50 66.60 368.46 66.60 321.50 81.23Z" fill="#00ff89" stroke="#00ff89" stroke-width="0.35"/>
<path d="M321.50 7.20 388.47 7.20 321.50 66.60ZM388.47 7.20 388.47 55.26 345.73 66.60 321.50 66.60ZM388.47 7.20 453.93 7.20 406.15 50.56 388.47 55.26ZM453.93 7.20 453.93 38.90 406.15 50.56ZM453.93 7.20 520.90 7.20 500.41 25.38 453.93 38.90ZM520.90 7.20 520.90 20.10 500.41 25.38ZM321.50 66.60 345.73 66.60 321.50 74.15Z" fill="#00ff77" stroke="#00ff77" stroke-width="0.35"/>
<path d="M321.50 7.20 388.47 7.20 321.50 66.60ZM388.47 7.20 388.47 49.23 323.00 66.60 321.50 66.60ZM388.47 7.20 453.93 7.20 415.55 42.02 388.47 49.23ZM453.93 7.20 453.93 32.66 415.55 42.02ZM453.93 7.20 520.90 7.20 510.87 16.09 453.93 32.66ZM520.90 7.20 520.90 13.51 510.87 16.09ZM321.50 66.60 323.00 66.60 321.50 67.07Z" fill="#00ff64" stroke="#00ff64" stroke-width="0.35"/>
<path d="M321.50 7.20 388.47 7.20 330.56 58.56 321.50 60.97ZM388.47 7.20 388.47 43.20 330.56 58.56ZM388.47 7.20 453.93 7.20 424.96 33.49 388.47 43.20ZM453.93 7.20 453.93 26.42 424.96 33.49ZM453.93 7.20 520.00 7.20 453.93 26.42Z" fill="#59ff4f" stroke="#59ff4f" stroke-width="0.35"/>
<path d="M321.50 7.20 388.47 7.20 340.26 49.96 321.50 54.94ZM388.47 7.20 388.47 37.17 340.26 49.96ZM388.47 7.20 453.93 7.20 434.37 24.95 388.47 37.17ZM453.93 7.20 453.93 20.18 434.37 24.95ZM453.93 7.20 498.55 7.20 453.93 20.18Z" fill="#80ff37" stroke="#80ff37" stroke-width="0.35"/>
<path d="M321.50 7.20 388.47 7.20 349.96 41.35 321.50 48.90ZM388.47 7.20 388.47 31.14 349.96 41.35ZM388.47 7.20 453.93 7.20 443.77 16.42 388.47 31.14ZM453.93 7.20 453.93 13.94 443.77 16.42ZM453.93 7.20 477.11 7.20 453.93 13.94Z" fill="#9fff13" stroke="#9fff13" stroke-width="0.35"/>
<path d="M321.50 7.20 388.47 7.20 359.67 32.75 321.50 42.87ZM388.47 7.20 388.47 25.11 359.67 32.75ZM388.47 7.20 453.93 7.20 453.18 7.89 388.47 25.11ZM453.93 7.20 453.93 7.70 453.18 7.89ZM453.93 7.20 455.66 7.20 453.93 7.70Z" fill="#b9ff00" stroke="#b9ff00" stroke-width="0.35"/>
<path d="M321.50 7.20 388.47 7.20 369.37 24.14 321.50 36.84ZM388.47 7.20 388.47 19.07 369.37 24.14ZM388.47 7.20 433.09 7.20 388.47 19.07Z" fill="#d2ff00" stroke="#d2ff00" stroke-width="0.35"/>
<path d="M321.50 7.20 388.47 7.20 379.07 15.54 321.50 30.81ZM388.47 7.20 388.47 13.04 379.07 15.54ZM388.47 7.20 410.42 7.20 388.47 13.04Z" fill="#e9ff00" stroke="#e9ff00" stroke-width="0.35"/>
<path d="M321.50 7.20 387.76 7.20 321.50 24.78Z" fill="#ffff00" stroke="#ffff00" stroke-width="0.35"/>
<path d="M321.50 7.20 365.02 7.20 321.50 18.75Z" fill="#fff000" stroke="#fff000" stroke-width="0.35"/>
<path d="M321.50 7.20 342.29 7.20 321.50 12.72Z" fill="#ffe000" stroke="#ffe000" stroke-width="0.35"/>
</g>
<path fill="#fff" fill-rule="evenodd" d="M320.00 5.70H522.40V185.40H320.00ZM323.00 8.70H519.40V182.40H323.00Z"/>
<path d="M321.70 7.40L324.30 10.00" stroke="#333" stroke-width="0.45"/><path d="M321.70 10.00L324.30 7.40" stroke="#111" stroke-width="0.65"/>
<path d="M387.17 7.40L389.77 10.00" stroke="#333" stroke-width="0.45"/><path d="M387.17 10.00L389.77 7.40" stroke="#111" stroke-width="0.65"/>
<path d="M452.63 7.40L455.23 10.00" stroke="#333" stroke-width="0.45"/><path d="M452.63 10.00L455.23 7.40" stroke="#111" stroke-width="0.65"/>
<path d="M518.10 7.40L520.70 10.00" stroke="#333" stroke-width="0.45"/><path d="M518.10 10.00L520.70 7.40" stroke="#111" stroke-width="0.65"/>
<path d="M321.70 65.30L324.30 67.90" stroke="#333" stroke-width="0.45"/><path d="M321.70 67.90L324.30 65.30" stroke="#111" stroke-width="0.65"/>
<path d="M387.17 65.30L389.77 67.90" stroke="#333" stroke-width="0.45"/><path d="M387.17 67.90L389.77 65.30" stroke="#111" stroke-width="0.65"/>
<path d="M452.63 65.30L455.23 67.90" stroke="#333" stroke-width="0.45"/><path d="M452.63 67.90L455.23 65.30" stroke="#111" stroke-width="0.65"/>
<path d="M518.10 65.30L520.70 67.90" stroke="#333" stroke-width="0.45"/><path d="M518.10 67.90L520.70 65.30" stroke="#111" stroke-width="0.65"/>
<path d="M321.70 123.20L324.30 125.80" stroke="#333" stroke-width="0.45"/><path d="M321.70 125.80L324.30 123.20" stroke="#111" stroke-width="0.65"/>
<path d="M387.17 123.20L389.77 125.80" stroke="#333" stroke-width="0.45"/><path d="M387.17 125.80L389.77 123.20" stroke="#111" stroke-width="0.65"/>
<path d="M452.63 123.20L455.23 125.80" stroke="#333" stroke-width="0.45"/><path d="M452.63 125.80L455.23 123.20" stroke="#111" stroke-width="0.65"/>
<path d="M518.10 123.20L520.70 125.80" stroke="#333" stroke-width="0.45"/><path d="M518.10 125.80L520.70 123.20" stroke="#111" stroke-width="0.65"/>
<path d="M321.70 181.10L324.30 183.70" stroke="#333" stroke-width="0.45"/><path d="M321.70 183.70L324.30 181.10" stroke="#111" stroke-width="0.65"/>
<path d="M387.17 181.10L389.77 183.70" stroke="#333" stroke-width="0.45"/><path d="M387.17 183.70L389.77 181.10" stroke="#111" stroke-width="0.65"/>
<path d="M452.63 181.10L455.23 183.70" stroke="#333" stroke-width="0.45"/><path d="M452.63 183.70L455.23 181.10" stroke="#111" stroke-width="0.65"/>
<path d="M518.10 181.10L520.70 183.70" stroke="#333" stroke-width="0.45"/><path d="M518.10 183.70L520.70 181.10" stroke="#111" stroke-width="0.65"/>
<defs><linearGradient id="cb527" x1="0" y1="0" x2="0" y2="1"><stop offset="0.0000%" stop-color="#960000"/><stop offset="1.5625%" stop-color="#960000"/><stop offset="1.5625%" stop-color="#a90000"/><stop offset="3.1250%" stop-color="#a90000"/><stop offset="3.1250%" stop-color="#bb0000"/><stop offset="4.6875%" stop-color="#bb0000"/><stop offset="4.6875%" stop-color="#cd0000"/><stop offset="6.2500%" stop-color="#cd0000"/><stop offset="6.2500%" stop-color="#e00000"/><stop offset="7.8125%" stop-color="#e00000"/><stop offset="7.8125%" stop-color="#f20000"/><stop offset="9.3750%" stop-color="#f20000"/><stop offset="9.3750%" stop-color="#ff0000"/><stop offset="10.9375%" stop-color="#ff0000"/><stop offset="10.9375%" stop-color="#ff0000"/><stop offset="12.5000%" stop-color="#ff0000"/><stop offset="12.5000%" stop-color="#ff0000"/><stop offset="14.0625%" stop-color="#ff0000"/><stop offset="14.0625%" stop-color="#ff0700"/><stop offset="15.6250%" stop-color="#ff0700"/><stop offset="15.6250%" stop-color="#ff1a00"/><stop offset="17.1875%" stop-color="#ff1a00"/><stop offset="17.1875%" stop-color="#ff2c00"/><stop offset="18.7500%" stop-color="#ff2c00"/><stop offset="18.7500%" stop-color="#ff3e00"/><stop offset="20.3125%" stop-color="#ff3e00"/><stop offset="20.3125%" stop-color="#ff4f00"/><stop offset="21.8750%" stop-color="#ff4f00"/><stop offset="21.8750%" stop-color="#ff5f00"/><stop offset="23.4375%" stop-color="#ff5f00"/><stop offset="23.4375%" stop-color="#ff7000"/><stop offset="25.0000%" stop-color="#ff7000"/><stop offset="25.0000%" stop-color="#ff8100"/><stop offset="26.5625%" stop-color="#ff8100"/><stop offset="26.5625%" stop-color="#ff9100"/><stop offset="28.1250%" stop-color="#ff9100"/><stop offset="28.1250%" stop-color="#ffa100"/><stop offset="29.6875%" stop-color="#ffa100"/><stop offset="29.6875%" stop-color="#ffb100"/><stop offset="31.2500%" stop-color="#ffb100"/><stop offset="31.2500%" stop-color="#ffc100"/><stop offset="32.8125%" stop-color="#ffc100"/><stop offset="32.8125%" stop-color="#ffd000"/><stop offset="34.3750%" stop-color="#ffd000"/><stop offset="34.3750%" stop-color="#ffe000"/><stop offset="35.9375%" stop-color="#ffe000"/><stop offset="35.9375%" stop-color="#fff000"/><stop offset="37.5000%" stop-color="#fff000"/><stop offset="37.5000%" stop-color="#ffff00"/><stop offset="39.0625%" stop-color="#ffff00"/><stop offset="39.0625%" stop-color="#e9ff00"/><stop offset="40.6250%" stop-color="#e9ff00"/><stop offset="40.6250%" stop-color="#d2ff00"/><stop offset="42.1875%" stop-color="#d2ff00"/><stop offset="42.1875%" stop-color="#b9ff00"/><stop offset="43.7500%" stop-color="#b9ff00"/><stop offset="43.7500%" stop-color="#9fff13"/><stop offset="45.3125%" stop-color="#9fff13"/><stop offset="45.3125%" stop-color="#80ff37"/><stop offset="46.8750%" stop-color="#80ff37"/><stop offset="46.8750%" stop-color="#59ff4f"/><stop offset="48.4375%" stop-color="#59ff4f"/><stop offset="48.4375%" stop-color="#00ff64"/><stop offset="50.0000%" stop-color="#00ff64"/><stop offset="50.0000%" stop-color="#00ff77"/><stop offset="51.5625%" stop-color="#00ff77"/><stop offset="51.5625%" stop-color="#00ff89"/><stop offset="53.1250%" stop-color="#00ff89"/><stop offset="53.1250%" stop-color="#00ff9b"/><stop offset="54.6875%" stop-color="#00ff9b"/><stop offset="54.6875%" stop-color="#00ffac"/><stop offset="56.2500%" stop-color="#00ffac"/><stop offset="56.2500%" stop-color="#00ffbd"/><stop offset="57.8125%" stop-color="#00ffbd"/><stop offset="57.8125%" stop-color="#00ffce"/><stop offset="59.3750%" stop-color="#00ffce"/><stop offset="59.3750%" stop-color="#00ffdf"/><stop offset="60.9375%" stop-color="#00ffdf"/><stop offset="60.9375%" stop-color="#00ffef"/><stop offset="62.5000%" stop-color="#00ffef"/><stop offset="62.5000%" stop-color="#00ffff"/><stop offset="64.0625%" stop-color="#00ffff"/><stop offset="64.0625%" stop-color="#00f0ff"/><stop offset="65.6250%" stop-color="#00f0ff"/><stop offset="65.6250%" stop-color="#00e0ff"/><stop offset="67.1875%" stop-color="#00e0ff"/><stop offset="67.1875%" stop-color="#00d0ff"/><stop offset="68.7500%" stop-color="#00d0ff"/><stop offset="68.7500%" stop-color="#00c1ff"/><stop offset="70.3125%" stop-color="#00c1ff"/><stop offset="70.3125%" stop-color="#00b1ff"/><stop offset="71.8750%" stop-color="#00b1ff"/><stop offset="71.8750%" stop-color="#00a1ff"/><stop offset="73.4375%" stop-color="#00a1ff"/><stop offset="73.4375%" stop-color="#0091ff"/><stop offset="75.0000%" stop-color="#0091ff"/><stop offset="75.0000%" stop-color="#0081ff"/><stop offset="76.5625%" stop-color="#0081ff"/><stop offset="76.5625%" stop-color="#0070ff"/><stop offset="78.1250%" stop-color="#0070ff"/><stop offset="78.1250%" stop-color="#005fff"/><stop offset="79.6875%" stop-color="#005fff"/><stop offset="79.6875%" stop-color="#004fff"/><stop offset="81.2500%" stop-color="#004fff"/><stop offset="81.2500%" stop-color="#003eff"/><stop offset="82.8125%" stop-color="#003eff"/><stop offset="82.8125%" stop-color="#002cff"/><stop offset="84.3750%" stop-color="#002cff"/><stop offset="84.3750%" stop-color="#001aff"/><stop offset="85.9375%" stop-color="#001aff"/><stop offset="85.9375%" stop-color="#0007ff"/><stop offset="87.5000%" stop-color="#0007ff"/><stop offset="87.5000%" stop-color="#0000ff"/><stop offset="89.0625%" stop-color="#0000ff"/><stop offset="89.0625%" stop-color="#0000f4"/><stop offset="90.6250%" stop-color="#0000f4"/><stop offset="90.6250%" stop-color="#0000e4"/><stop offset="92.1875%" stop-color="#0000e4"/><stop offset="92.1875%" stop-color="#0000d4"/><stop offset="93.7500%" stop-color="#0000d4"/><stop offset="93.7500%" stop-color="#0000c4"/><stop offset="95.3125%" stop-color="#0000c4"/><stop offset="95.3125%" stop-color="#0000b4"/><stop offset="96.8750%" stop-color="#0000b4"/><stop offset="96.8750%" stop-color="#0000a4"/><stop offset="98.4375%" stop-color="#0000a4"/><stop offset="98.4375%" stop-color="#000094"/><stop offset="100.0000%" stop-color="#000094"/></linearGradient></defs>
<rect x="527.00" y="8.70" width="10.70" height="173.70" fill="url(#cb527)"/>
<rect x="527.00" y="8.70" width="10.70" height="173.70" fill="none" stroke="#666" stroke-width="0.45"/>
<text x="540.40" y="184.70" class="t">5</text>
<path d="M537.70 138.97h-1.4" stroke="#333" stroke-width="0.5"/>
<text x="540.40" y="141.28" class="t">10</text>
<path d="M537.70 95.55h-1.4" stroke="#333" stroke-width="0.5"/>
<text x="540.40" y="97.85" class="t">15</text>
<path d="M537.70 52.12h-1.4" stroke="#333" stroke-width="0.5"/>
<text x="540.40" y="54.42" class="t">20</text>
<text x="540.40" y="11.00" class="t">25</text>
<text x="323.00" y="192.20" class="t" text-anchor="middle">1</text>
<text x="388.47" y="192.20" class="t" text-anchor="middle">2</text>
<text x="453.93" y="192.20" class="t" text-anchor="middle">3</text>
<text x="519.40" y="192.20" class="t" text-anchor="middle">4</text>
<text x="319.60" y="11.30" class="t" text-anchor="end">−2</text>
<text x="319.60" y="69.20" class="t" text-anchor="end">−4</text>
<text x="319.60" y="127.10" class="t" text-anchor="end">−6</text>
<text x="319.60" y="185.00" class="t" text-anchor="end">−8</text>
<text transform="translate(421.20 200.60) scale(0.900 1)" class="l" text-anchor="middle" textLength="61.67" lengthAdjust="spacing">Wind speed (m/s)</text>
<text transform="translate(309.80 95.55) rotate(-90) scale(0.900 1)" class="l" text-anchor="middle" textLength="98.89" lengthAdjust="spacing">Pavement temperature (°C)</text>
<text transform="translate(515.90 19.50) scale(0.900 1)" class="l" text-anchor="end" textLength="69.44" lengthAdjust="spacing">Water depth=1.5 mm</text>
<text x="432.70" y="221.90" class="c" text-anchor="middle">(<tspan class="cb">b</tspan>)</text>
<g>
<rect x="22.70" y="240.80" width="199.00" height="176.70" fill="#00c1ff"/>
<path d="M22.70 240.80 89.53 240.80 22.70 300.20ZM89.53 240.80 89.53 300.20 22.70 300.20ZM89.53 240.80 154.87 240.80 89.53 300.20ZM154.87 240.80 154.87 300.20 89.53 300.20ZM154.87 240.80 221.70 240.80 154.87 300.20ZM221.70 240.80 221.70 300.20 154.87 300.20ZM22.70 300.20 89.53 300.20 22.70 358.10ZM89.53 300.20 89.53 358.10 22.70 358.10ZM89.53 300.20 154.87 300.20 89.53 358.10ZM154.87 300.20 154.87 358.10 89.53 358.10ZM154.87 300.20 221.70 300.20 154.87 358.10ZM221.70 300.20 221.70 355.05 215.30 358.10 154.87 358.10ZM22.70 358.10 89.53 358.10 22.70 417.50ZM89.53 358.10 89.53 417.50 22.70 417.50ZM89.53 358.10 154.87 358.10 89.53 417.50ZM154.87 358.10 154.87 417.50 89.53 417.50ZM154.87 358.10 215.30 358.10 207.43 370.79 154.87 417.50ZM208.96 417.50 154.87 417.50 207.43 370.79Z" fill="#00d0ff" stroke="#00d0ff" stroke-width="0.35"/>
<path d="M22.70 240.80 89.53 240.80 22.70 300.20ZM89.53 240.80 89.53 300.20 22.70 300.20ZM89.53 240.80 154.87 240.80 89.53 300.20ZM154.87 240.80 154.87 300.20 89.53 300.20ZM154.87 240.80 221.70 240.80 154.87 300.20ZM221.70 240.80 221.70 300.20 154.87 300.20ZM22.70 300.20 89.53 300.20 22.70 358.10ZM89.53 300.20 89.53 358.10 22.70 358.10ZM89.53 300.20 154.87 300.20 89.53 358.10ZM154.87 300.20 154.87 358.10 89.53 358.10ZM154.87 300.20 221.70 300.20 154.87 358.10ZM221.70 300.20 221.70 350.19 205.09 358.10 154.87 358.10ZM22.70 358.10 89.53 358.10 22.70 417.50ZM89.53 358.10 89.53 417.50 22.70 417.50ZM89.53 358.10 154.87 358.10 89.53 417.50ZM154.87 358.10 154.87 417.50 89.53 417.50ZM154.87 358.10 205.09 358.10 184.66 391.02 154.87 417.50ZM185.53 417.50 154.87 417.50 184.66 391.02Z" fill="#00e0ff" stroke="#00e0ff" stroke-width="0.35"/>
<path d="M22.70 240.80 89.53 240.80 22.70 300.20ZM89.53 240.80 89.53 300.20 22.70 300.20ZM89.53 240.80 154.87 240.80 89.53 300.20ZM154.87 240.80 154.87 300.20 89.53 300.20ZM154.87 240.80 221.70 240.80 154.87 300.20ZM221.70 240.80 221.70 300.20 154.87 300.20ZM22.70 300.20 89.53 300.20 22.70 358.10ZM89.53 300.20 89.53 358.10 22.70 358.10ZM89.53 300.20 154.87 300.20 89.53 358.10ZM154.87 300.20 154.87 358.10 89.53 358.10ZM154.87 300.20 221.70 300.20 154.87 358.10ZM221.70 300.20 221.70 345.32 194.88 358.10 154.87 358.10ZM22.70 358.10 89.53 358.10 22.70 417.50ZM89.53 358.10 89.53 417.50 22.70 417.50ZM89.53 358.10 154.87 358.10 89.53 417.50ZM154.87 358.10 154.87 417.50 89.53 417.50ZM154.87 358.10 194.88 358.10 161.90 411.25 154.87 417.50ZM162.10 417.50 154.87 417.50 161.90 411.25Z" fill="#00f0ff" stroke="#00f0ff" stroke-width="0.35"/>
<path d="M22.70 240.80 89.53 240.80 22.70 300.20ZM89.53 240.80 89.53 300.20 22.70 300.20ZM89.53 240.80 154.87 240.80 89.53 300.20ZM154.87 240.80 154.87 300.20 89.53 300.20ZM154.87 240.80 221.70 240.80 154.87 300.20ZM221.70 240.80 221.70 300.20 154.87 300.20ZM22.70 300.20 89.53 300.20 22.70 358.10ZM89.53 300.20 89.53 358.10 22.70 358.10ZM89.53 300.20 154.87 300.20 89.53 358.10ZM154.87 300.20 154.87 358.10 89.53 358.10ZM154.87 300.20 221.70 300.20 154.87 358.10ZM221.70 300.20 221.70 340.46 184.67 358.10 154.87 358.10ZM22.70 358.10 89.53 358.10 22.70 417.50ZM89.53 358.10 89.53 417.50 22.70 417.50ZM89.53 358.10 154.87 358.10 89.53 417.50ZM154.87 358.10 154.87 406.13 144.86 417.50 89.53 417.50ZM154.87 358.10 184.67 358.10 154.87 406.13Z" fill="#00ffff" stroke="#00ffff" stroke-width="0.35"/>
<path d="M22.70 240.80 89.53 240.80 22.70 300.20ZM89.53 240.80 89.53 300.20 22.70 300.20ZM89.53 240.80 154.87 240.80 89.53 300.20ZM154.87 240.80 154.87 300.20 89.53 300.20ZM154.87 240.80 221.70 240.80 154.87 300.20ZM221.70 240.80 221.70 300.20 154.87 300.20ZM22.70 300.20 89.53 300.20 22.70 358.10ZM89.53 300.20 89.53 358.10 22.70 358.10ZM89.53 300.20 154.87 300.20 89.53 358.10ZM154.87 300.20 154.87 358.10 89.53 358.10ZM154.87 300.20 221.70 300.20 154.87 358.10ZM221.70 300.20 221.70 335.59 174.47 358.10 154.87 358.10ZM22.70 358.10 89.53 358.10 22.70 417.50ZM89.53 358.10 89.53 417.50 22.70 417.50ZM89.53 358.10 154.87 358.10 89.53 417.50ZM154.87 358.10 154.87 389.68 130.38 417.50 89.53 417.50ZM154.87 358.10 174.47 358.10 154.87 389.68Z" fill="#00ffef" stroke="#00ffef" stroke-width="0.35"/>
<path d="M22.70 240.80 89.53 240.80 22.70 300.20ZM89.53 240.80 89.53 300.20 22.70 300.20ZM89.53 240.80 154.87 240.80 89.53 300.20ZM154.87 240.80 154.87 300.20 89.53 300.20ZM154.87 240.80 221.70 240.80 154.87 300.20ZM221.70 240.80 221.70 300.20 154.87 300.20ZM22.70 300.20 89.53 300.20 22.70 358.10ZM89.53 300.20 89.53 358.10 22.70 358.10ZM89.53 300.20 154.87 300.20 89.53 358.10ZM154.87 300.20 154.87 358.10 89.53 358.10ZM154.87 300.20 221.70 300.20 154.87 358.10ZM221.70 300.20 221.70 330.73 164.26 358.10 154.87 358.10ZM22.70 358.10 89.53 358.10 22.70 417.50ZM89.53 358.10 89.53 417.50 22.70 417.50ZM89.53 358.10 154.87 358.10 89.53 417.50ZM154.87 358.10 154.87 373.23 115.91 417.50 89.53 417.50ZM154.87 358.10 164.26 358.10 154.87 373.23Z" fill="#00ffdf" stroke="#00ffdf" stroke-width="0.35"/>
<path d="M22.70 240.80 89.53 240.80 22.70 300.20ZM89.53 240.80 89.53 300.20 22.70 300.20ZM89.53 240.80 154.87 240.80 89.53 300.20ZM154.87 240.80 154.87 300.20 89.53 300.20ZM154.87 240.80 221.70 240.80 154.87 300.20ZM221.70 240.80 221.70 300.20 154.87 300.20ZM22.70 300.20 89.53 300.20 22.70 358.10ZM89.53 300.20 89.53 358.10 22.70 358.10ZM89.53 300.20 154.87 300.20 89.53 358.10ZM154.87 300.20 154.87 357.59 153.23 358.10 89.53 358.10ZM154.87 300.20 221.70 300.20 155.87 357.24 154.87 357.59ZM221.70 300.20 221.70 325.86 155.87 357.24ZM22.70 358.10 89.53 358.10 22.70 417.50ZM89.53 358.10 89.53 417.50 22.70 417.50ZM89.53 358.10 153.23 358.10 149.07 363.37 89.53 417.50ZM101.43 417.50 89.53 417.50 149.07 363.37Z" fill="#00ffce" stroke="#00ffce" stroke-width="0.35"/>
<path d="M22.70 240.80 89.53 240.80 22.70 300.20ZM89.53 240.80 89.53 300.20 22.70 300.20ZM89.53 240.80 154.87 240.80 89.53 300.20ZM154.87 240.80 154.87 300.20 89.53 300.20ZM154.87 240.80 221.70 240.80 154.87 300.20ZM221.70 240.80 221.70 300.20 154.87 300.20ZM22.70 300.20 89.53 300.20 22.70 358.10ZM89.53 300.20 89.53 358.10 22.70 358.10ZM89.53 300.20 154.87 300.20 89.53 358.10ZM154.87 300.20 154.87 351.24 132.82 358.10 89.53 358.10ZM154.87 300.20 221.70 300.20 168.34 346.42 154.87 351.24ZM221.70 300.20 221.70 321.00 168.34 346.42ZM22.70 358.10 89.53 358.10 22.70 417.50ZM89.53 358.10 89.53 412.90 82.19 417.50 22.70 417.50ZM89.53 358.10 132.82 358.10 89.53 412.90Z" fill="#00ffbd" stroke="#00ffbd" stroke-width="0.35"/>
<path d="M22.70 240.80 89.53 240.80 22.70 300.20ZM89.53 240.80 89.53 300.20 22.70 300.20ZM89.53 240.80 154.87 240.80 89.53 300.20ZM154.87 240.80 154.87 300.20 89.53 300.20ZM154.87 240.80 221.70 240.80 154.87 300.20ZM221.70 240.80 221.70 300.20 154.87 300.20ZM22.70 300.20 89.53 300.20 22.70 358.10ZM89.53 300.20 89.53 358.10 22.70 358.10ZM89.53 300.20 154.87 300.20 89.53 358.10ZM154.87 300.20 154.87 344.89 112.40 358.10 89.53 358.10ZM154.87 300.20 221.70 300.20 180.82 335.61 154.87 344.89ZM221.70 300.20 221.70 316.13 180.82 335.61ZM22.70 358.10 89.53 358.10 22.70 417.50ZM89.53 358.10 89.53 387.05 40.93 417.50 22.70 417.50ZM89.53 358.10 112.40 358.10 89.53 387.05Z" fill="#00ffac" stroke="#00ffac" stroke-width="0.35"/>
<path d="M22.70 240.80 89.53 240.80 22.70 300.20ZM89.53 240.80 89.53 300.20 22.70 300.20ZM89.53 240.80 154.87 240.80 89.53 300.20ZM154.87 240.80 154.87 300.20 89.53 300.20ZM154.87 240.80 221.70 240.80 154.87 300.20ZM221.70 240.80 221.70 300.20 154.87 300.20ZM22.70 300.20 89.53 300.20 22.70 358.10ZM89.53 300.20 89.53 358.10 22.70 358.10ZM89.53 300.20 154.87 300.20 89.53 358.10ZM154.87 300.20 154.87 338.55 91.98 358.10 89.53 358.10ZM154.87 300.20 221.70 300.20 193.30 324.80 154.87 338.55ZM221.70 300.20 221.70 311.27 193.30 324.80ZM22.70 358.10 89.53 358.10 77.71 368.61 22.70 406.33ZM89.53 358.10 89.53 361.20 77.71 368.61ZM89.53 358.10 91.98 358.10 89.53 361.20Z" fill="#00ff9b" stroke="#00ff9b" stroke-width="0.35"/>
<path d="M22.70 240.80 89.53 240.80 22.70 300.20ZM89.53 240.80 89.53 300.20 22.70 300.20ZM89.53 240.80 154.87 240.80 89.53 300.20ZM154.87 240.80 154.87 300.20 89.53 300.20ZM154.87 240.80 221.70 240.80 154.87 300.20ZM221.70 240.80 221.70 300.20 154.87 300.20ZM22.70 300.20 89.53 300.20 22.70 358.10ZM89.53 300.20 89.53 349.49 63.87 358.10 22.70 358.10ZM89.53 300.20 154.87 300.20 99.25 349.49 89.53 349.49ZM154.87 300.20 154.87 332.20 99.25 349.49ZM154.87 300.20 221.70 300.20 205.78 313.99 154.87 332.20ZM221.70 300.20 221.70 306.40 205.78 313.99ZM22.70 358.10 63.87 358.10 22.70 386.33Z" fill="#00ff89" stroke="#00ff89" stroke-width="0.35"/>
<path d="M22.70 240.80 89.53 240.80 22.70 300.20ZM89.53 240.80 89.53 300.20 22.70 300.20ZM89.53 240.80 154.87 240.80 89.53 300.20ZM154.87 240.80 154.87 300.20 89.53 300.20ZM154.87 240.80 221.70 240.80 154.87 300.20ZM221.70 240.80 221.70 300.20 154.87 300.20ZM22.70 300.20 89.53 300.20 22.70 358.10ZM89.53 300.20 89.53 339.71 34.70 358.10 22.70 358.10ZM89.53 300.20 154.87 300.20 110.28 339.71 89.53 339.71ZM154.87 300.20 154.87 325.85 110.28 339.71ZM154.87 300.20 221.70 300.20 218.26 303.18 154.87 325.85ZM221.70 300.20 221.70 301.54 218.26 303.18ZM22.70 358.10 34.70 358.10 22.70 366.33Z" fill="#00ff77" stroke="#00ff77" stroke-width="0.35"/>
<path d="M22.70 240.80 89.53 240.80 22.70 300.20ZM89.53 240.80 89.53 300.20 22.70 300.20ZM89.53 240.80 154.87 240.80 89.53 300.20ZM154.87 240.80 154.87 300.20 89.53 300.20ZM154.87 240.80 221.70 240.80 154.87 300.20ZM221.70 240.80 221.70 296.76 208.84 300.20 154.87 300.20ZM22.70 300.20 89.53 300.20 33.54 348.71 22.70 355.53ZM89.53 300.20 89.53 329.93 33.54 348.71ZM89.53 300.20 154.87 300.20 121.32 329.93 89.53 329.93ZM154.87 300.20 154.87 319.50 121.32 329.93ZM154.87 300.20 208.84 300.20 154.87 319.50Z" fill="#00ff64" stroke="#00ff64" stroke-width="0.35"/>
<path d="M22.70 240.80 89.53 240.80 22.70 300.20ZM89.53 240.80 89.53 300.20 22.70 300.20ZM89.53 240.80 154.87 240.80 89.53 300.20ZM154.87 240.80 154.87 300.20 89.53 300.20ZM154.87 240.80 221.70 240.80 154.87 300.20ZM221.70 240.80 221.70 292.02 191.08 300.20 154.87 300.20ZM22.70 300.20 89.53 300.20 51.96 332.75 22.70 351.18ZM89.53 300.20 89.53 320.15 51.96 332.75ZM89.53 300.20 154.87 300.20 132.35 320.15 89.53 320.15ZM154.87 300.20 154.87 313.15 132.35 320.15ZM154.87 300.20 191.08 300.20 154.87 313.15Z" fill="#59ff4f" stroke="#59ff4f" stroke-width="0.35"/>
<path d="M22.70 240.80 89.53 240.80 22.70 300.20ZM89.53 240.80 89.53 300.20 22.70 300.20ZM89.53 240.80 154.87 240.80 89.53 300.20ZM154.87 240.80 154.87 300.20 89.53 300.20ZM154.87 240.80 221.70 240.80 154.87 300.20ZM221.70 240.80 221.70 287.27 173.33 300.20 154.87 300.20ZM22.70 300.20 89.53 300.20 70.38 316.79 22.70 346.82ZM89.53 300.20 89.53 310.37 70.38 316.79ZM89.53 300.20 154.87 300.20 143.39 310.37 89.53 310.37ZM154.87 300.20 154.87 306.80 143.39 310.37ZM154.87 300.20 173.33 300.20 154.87 306.80Z" fill="#80ff37" stroke="#80ff37" stroke-width="0.35"/>
<path d="M22.70 240.80 89.53 240.80 22.70 300.20ZM89.53 240.80 89.53 300.20 22.70 300.20ZM89.53 240.80 154.87 240.80 89.53 300.20ZM154.87 240.80 154.87 300.20 89.53 300.20ZM154.87 240.80 221.70 240.80 154.87 300.20ZM221.70 240.80 221.70 282.52 155.58 300.20 154.87 300.20ZM22.70 300.20 89.53 300.20 88.80 300.84 22.70 342.46ZM89.53 300.20 89.53 300.59 88.80 300.84ZM89.53 300.20 154.87 300.20 154.43 300.59 89.53 300.59ZM154.87 300.20 154.87 300.45 154.43 300.59ZM154.87 300.20 155.58 300.20 154.87 300.45Z" fill="#9fff13" stroke="#9fff13" stroke-width="0.35"/>
<path d="M22.70 240.80 89.53 240.80 22.70 300.20ZM89.53 240.80 89.53 296.21 82.89 300.20 22.70 300.20ZM89.53 240.80 154.87 240.80 95.41 294.86 89.53 296.21ZM154.87 240.80 154.87 294.86 95.41 294.86ZM154.87 240.80 221.70 240.80 162.20 293.68 154.87 294.86ZM221.70 240.80 221.70 277.78 162.20 293.68ZM22.70 300.20 82.89 300.20 22.70 338.10Z" fill="#b9ff00" stroke="#b9ff00" stroke-width="0.35"/>
<path d="M22.70 240.80 89.53 240.80 22.70 300.20ZM89.53 240.80 89.53 292.05 75.97 300.20 22.70 300.20ZM89.53 240.80 154.87 240.80 101.54 289.29 89.53 292.05ZM154.87 240.80 154.87 289.29 101.54 289.29ZM154.87 240.80 221.70 240.80 169.83 286.90 154.87 289.29ZM221.70 240.80 221.70 273.03 169.83 286.90ZM22.70 300.20 75.97 300.20 22.70 333.74Z" fill="#d2ff00" stroke="#d2ff00" stroke-width="0.35"/>
<path d="M22.70 240.80 89.53 240.80 22.70 300.20ZM89.53 240.80 89.53 287.89 69.05 300.20 22.70 300.20ZM89.53 240.80 154.87 240.80 107.66 283.72 89.53 287.89ZM154.87 240.80 154.87 283.72 107.66 283.72ZM154.87 240.80 221.70 240.80 177.47 280.11 154.87 283.72ZM221.70 240.80 221.70 268.29 177.47 280.11ZM22.70 300.20 69.05 300.20 22.70 329.39Z" fill="#e9ff00" stroke="#e9ff00" stroke-width="0.35"/>
<path d="M22.70 240.80 89.53 240.80 22.70 300.20ZM89.53 240.80 89.53 283.73 62.13 300.20 22.70 300.20ZM89.53 240.80 154.87 240.80 113.78 278.15 89.53 283.73ZM154.87 240.80 154.87 278.15 113.78 278.15ZM154.87 240.80 221.70 240.80 185.11 273.32 154.87 278.15ZM221.70 240.80 221.70 263.54 185.11 273.32ZM22.70 300.20 62.13 300.20 22.70 325.03Z" fill="#ffff00" stroke="#ffff00" stroke-width="0.35"/>
<path d="M22.70 240.80 89.53 240.80 22.70 300.20ZM89.53 240.80 89.53 279.57 55.21 300.20 22.70 300.20ZM89.53 240.80 154.87 240.80 119.91 272.59 89.53 279.57ZM154.87 240.80 154.87 272.59 119.91 272.59ZM154.87 240.80 221.70 240.80 192.74 266.54 154.87 272.59ZM221.70 240.80 221.70 258.80 192.74 266.54ZM22.70 300.20 55.21 300.20 22.70 320.67Z" fill="#fff000" stroke="#fff000" stroke-width="0.35"/>
<path d="M22.70 240.80 89.53 240.80 22.70 300.20ZM89.53 240.80 89.53 275.41 48.28 300.20 22.70 300.20ZM89.53 240.80 154.87 240.80 126.03 267.02 89.53 275.41ZM154.87 240.80 154.87 267.02 126.03 267.02ZM154.87 240.80 221.70 240.80 200.38 259.75 154.87 267.02ZM221.70 240.80 221.70 254.05 200.38 259.75ZM22.70 300.20 48.28 300.20 22.70 316.31Z" fill="#ffe000" stroke="#ffe000" stroke-width="0.35"/>
<path d="M22.70 240.80 89.53 240.80 22.70 300.20ZM89.53 240.80 89.53 271.25 41.36 300.20 22.70 300.20ZM89.53 240.80 154.87 240.80 132.15 261.45 89.53 271.25ZM154.87 240.80 154.87 261.45 132.15 261.45ZM154.87 240.80 221.70 240.80 208.02 252.96 154.87 261.45ZM221.70 240.80 221.70 249.30 208.02 252.96ZM22.70 300.20 41.36 300.20 22.70 311.95Z" fill="#ffd000" stroke="#ffd000" stroke-width="0.35"/>
<path d="M22.70 240.80 89.53 240.80 22.70 300.20ZM89.53 240.80 89.53 267.09 34.44 300.20 22.70 300.20ZM89.53 240.80 154.87 240.80 138.28 255.88 89.53 267.09ZM154.87 240.80 154.87 255.88 138.28 255.88ZM154.87 240.80 221.70 240.80 215.65 246.18 154.87 255.88ZM221.70 240.80 221.70 244.56 215.65 246.18ZM22.70 300.20 34.44 300.20 22.70 307.59Z" fill="#ffc100" stroke="#ffc100" stroke-width="0.35"/>
<path d="M22.70 240.80 89.53 240.80 22.70 300.20ZM89.53 240.80 89.53 262.93 27.52 300.20 22.70 300.20ZM89.53 240.80 154.87 240.80 144.40 250.32 89.53 262.93ZM154.87 240.80 154.87 250.32 144.40 250.32ZM154.87 240.80 214.45 240.80 154.87 250.32ZM22.70 300.20 27.52 300.20 22.70 303.24Z" fill="#ffb100" stroke="#ffb100" stroke-width="0.35"/>
<path d="M22.70 240.80 89.53 240.80 27.08 296.30 22.70 298.89ZM89.53 240.80 89.53 258.77 27.08 296.30ZM89.53 240.80 154.87 240.80 150.52 244.75 89.53 258.77ZM154.87 240.80 154.87 244.75 150.52 244.75ZM154.87 240.80 179.59 240.80 154.87 244.75Z" fill="#ffa100" stroke="#ffa100" stroke-width="0.35"/>
<path d="M22.70 240.80 89.53 240.80 41.54 283.46 22.70 294.58ZM89.53 240.80 89.53 254.61 41.54 283.46ZM89.53 240.80 149.61 240.80 89.53 254.61Z" fill="#ff9100" stroke="#ff9100" stroke-width="0.35"/>
<path d="M22.70 240.80 89.53 240.80 55.99 270.61 22.70 290.27ZM89.53 240.80 89.53 250.45 55.99 270.61ZM89.53 240.80 131.52 240.80 89.53 250.45Z" fill="#ff8100" stroke="#ff8100" stroke-width="0.35"/>
<path d="M22.70 240.80 89.53 240.80 70.45 257.77 22.70 285.96ZM89.53 240.80 89.53 246.29 70.45 257.77ZM89.53 240.80 113.43 240.80 89.53 246.29Z" fill="#ff7000" stroke="#ff7000" stroke-width="0.35"/>
<path d="M22.70 240.80 89.53 240.80 84.90 244.92 22.70 281.65ZM89.53 240.80 89.53 242.13 84.90 244.92ZM89.53 240.80 95.33 240.80 89.53 242.13Z" fill="#ff5f00" stroke="#ff5f00" stroke-width="0.35"/>
<path d="M22.70 240.80 84.57 240.80 22.70 277.33Z" fill="#ff4f00" stroke="#ff4f00" stroke-width="0.35"/>
<path d="M22.70 240.80 77.27 240.80 22.70 273.02Z" fill="#ff3e00" stroke="#ff3e00" stroke-width="0.35"/>
<path d="M22.70 240.80 69.97 240.80 22.70 268.71Z" fill="#ff2c00" stroke="#ff2c00" stroke-width="0.35"/>
<path d="M22.70 240.80 62.67 240.80 22.70 264.40Z" fill="#ff1a00" stroke="#ff1a00" stroke-width="0.35"/>
<path d="M22.70 240.80 55.37 240.80 22.70 260.09Z" fill="#ff0700" stroke="#ff0700" stroke-width="0.35"/>
<path d="M22.70 240.80 48.06 240.80 22.70 255.78Z" fill="#ff0000" stroke="#ff0000" stroke-width="0.35"/>
<path d="M22.70 240.80 40.76 240.80 22.70 251.47Z" fill="#ff0000" stroke="#ff0000" stroke-width="0.35"/>
<path d="M22.70 240.80 33.46 240.80 22.70 247.15Z" fill="#ff0000" stroke="#ff0000" stroke-width="0.35"/>
<path d="M22.70 240.80 26.16 240.80 22.70 242.84Z" fill="#f20000" stroke="#f20000" stroke-width="0.35"/>
</g>
<path fill="#fff" fill-rule="evenodd" d="M21.20 239.30H223.20V419.00H21.20ZM24.20 242.30H220.20V416.00H24.20Z"/>
<path d="M22.90 241.00L25.50 243.60" stroke="#333" stroke-width="0.45"/><path d="M22.90 243.60L25.50 241.00" stroke="#111" stroke-width="0.65"/>
<path d="M88.23 241.00L90.83 243.60" stroke="#333" stroke-width="0.45"/><path d="M88.23 243.60L90.83 241.00" stroke="#111" stroke-width="0.65"/>
<path d="M153.57 241.00L156.17 243.60" stroke="#333" stroke-width="0.45"/><path d="M153.57 243.60L156.17 241.00" stroke="#111" stroke-width="0.65"/>
<path d="M218.90 241.00L221.50 243.60" stroke="#333" stroke-width="0.45"/><path d="M218.90 243.60L221.50 241.00" stroke="#111" stroke-width="0.65"/>
<path d="M22.90 298.90L25.50 301.50" stroke="#333" stroke-width="0.45"/><path d="M22.90 301.50L25.50 298.90" stroke="#111" stroke-width="0.65"/>
<path d="M88.23 298.90L90.83 301.50" stroke="#333" stroke-width="0.45"/><path d="M88.23 301.50L90.83 298.90" stroke="#111" stroke-width="0.65"/>
<path d="M153.57 298.90L156.17 301.50" stroke="#333" stroke-width="0.45"/><path d="M153.57 301.50L156.17 298.90" stroke="#111" stroke-width="0.65"/>
<path d="M218.90 298.90L221.50 301.50" stroke="#333" stroke-width="0.45"/><path d="M218.90 301.50L221.50 298.90" stroke="#111" stroke-width="0.65"/>
<path d="M22.90 356.80L25.50 359.40" stroke="#333" stroke-width="0.45"/><path d="M22.90 359.40L25.50 356.80" stroke="#111" stroke-width="0.65"/>
<path d="M88.23 356.80L90.83 359.40" stroke="#333" stroke-width="0.45"/><path d="M88.23 359.40L90.83 356.80" stroke="#111" stroke-width="0.65"/>
<path d="M153.57 356.80L156.17 359.40" stroke="#333" stroke-width="0.45"/><path d="M153.57 359.40L156.17 356.80" stroke="#111" stroke-width="0.65"/>
<path d="M218.90 356.80L221.50 359.40" stroke="#333" stroke-width="0.45"/><path d="M218.90 359.40L221.50 356.80" stroke="#111" stroke-width="0.65"/>
<path d="M22.90 414.70L25.50 417.30" stroke="#333" stroke-width="0.45"/><path d="M22.90 417.30L25.50 414.70" stroke="#111" stroke-width="0.65"/>
<path d="M88.23 414.70L90.83 417.30" stroke="#333" stroke-width="0.45"/><path d="M88.23 417.30L90.83 414.70" stroke="#111" stroke-width="0.65"/>
<path d="M153.57 414.70L156.17 417.30" stroke="#333" stroke-width="0.45"/><path d="M153.57 417.30L156.17 414.70" stroke="#111" stroke-width="0.65"/>
<path d="M218.90 414.70L221.50 417.30" stroke="#333" stroke-width="0.45"/><path d="M218.90 417.30L221.50 414.70" stroke="#111" stroke-width="0.65"/>
<defs><linearGradient id="cb227" x1="0" y1="0" x2="0" y2="1"><stop offset="0.0000%" stop-color="#960000"/><stop offset="1.5625%" stop-color="#960000"/><stop offset="1.5625%" stop-color="#a90000"/><stop offset="3.1250%" stop-color="#a90000"/><stop offset="3.1250%" stop-color="#bb0000"/><stop offset="4.6875%" stop-color="#bb0000"/><stop offset="4.6875%" stop-color="#cd0000"/><stop offset="6.2500%" stop-color="#cd0000"/><stop offset="6.2500%" stop-color="#e00000"/><stop offset="7.8125%" stop-color="#e00000"/><stop offset="7.8125%" stop-color="#f20000"/><stop offset="9.3750%" stop-color="#f20000"/><stop offset="9.3750%" stop-color="#ff0000"/><stop offset="10.9375%" stop-color="#ff0000"/><stop offset="10.9375%" stop-color="#ff0000"/><stop offset="12.5000%" stop-color="#ff0000"/><stop offset="12.5000%" stop-color="#ff0000"/><stop offset="14.0625%" stop-color="#ff0000"/><stop offset="14.0625%" stop-color="#ff0700"/><stop offset="15.6250%" stop-color="#ff0700"/><stop offset="15.6250%" stop-color="#ff1a00"/><stop offset="17.1875%" stop-color="#ff1a00"/><stop offset="17.1875%" stop-color="#ff2c00"/><stop offset="18.7500%" stop-color="#ff2c00"/><stop offset="18.7500%" stop-color="#ff3e00"/><stop offset="20.3125%" stop-color="#ff3e00"/><stop offset="20.3125%" stop-color="#ff4f00"/><stop offset="21.8750%" stop-color="#ff4f00"/><stop offset="21.8750%" stop-color="#ff5f00"/><stop offset="23.4375%" stop-color="#ff5f00"/><stop offset="23.4375%" stop-color="#ff7000"/><stop offset="25.0000%" stop-color="#ff7000"/><stop offset="25.0000%" stop-color="#ff8100"/><stop offset="26.5625%" stop-color="#ff8100"/><stop offset="26.5625%" stop-color="#ff9100"/><stop offset="28.1250%" stop-color="#ff9100"/><stop offset="28.1250%" stop-color="#ffa100"/><stop offset="29.6875%" stop-color="#ffa100"/><stop offset="29.6875%" stop-color="#ffb100"/><stop offset="31.2500%" stop-color="#ffb100"/><stop offset="31.2500%" stop-color="#ffc100"/><stop offset="32.8125%" stop-color="#ffc100"/><stop offset="32.8125%" stop-color="#ffd000"/><stop offset="34.3750%" stop-color="#ffd000"/><stop offset="34.3750%" stop-color="#ffe000"/><stop offset="35.9375%" stop-color="#ffe000"/><stop offset="35.9375%" stop-color="#fff000"/><stop offset="37.5000%" stop-color="#fff000"/><stop offset="37.5000%" stop-color="#ffff00"/><stop offset="39.0625%" stop-color="#ffff00"/><stop offset="39.0625%" stop-color="#e9ff00"/><stop offset="40.6250%" stop-color="#e9ff00"/><stop offset="40.6250%" stop-color="#d2ff00"/><stop offset="42.1875%" stop-color="#d2ff00"/><stop offset="42.1875%" stop-color="#b9ff00"/><stop offset="43.7500%" stop-color="#b9ff00"/><stop offset="43.7500%" stop-color="#9fff13"/><stop offset="45.3125%" stop-color="#9fff13"/><stop offset="45.3125%" stop-color="#80ff37"/><stop offset="46.8750%" stop-color="#80ff37"/><stop offset="46.8750%" stop-color="#59ff4f"/><stop offset="48.4375%" stop-color="#59ff4f"/><stop offset="48.4375%" stop-color="#00ff64"/><stop offset="50.0000%" stop-color="#00ff64"/><stop offset="50.0000%" stop-color="#00ff77"/><stop offset="51.5625%" stop-color="#00ff77"/><stop offset="51.5625%" stop-color="#00ff89"/><stop offset="53.1250%" stop-color="#00ff89"/><stop offset="53.1250%" stop-color="#00ff9b"/><stop offset="54.6875%" stop-color="#00ff9b"/><stop offset="54.6875%" stop-color="#00ffac"/><stop offset="56.2500%" stop-color="#00ffac"/><stop offset="56.2500%" stop-color="#00ffbd"/><stop offset="57.8125%" stop-color="#00ffbd"/><stop offset="57.8125%" stop-color="#00ffce"/><stop offset="59.3750%" stop-color="#00ffce"/><stop offset="59.3750%" stop-color="#00ffdf"/><stop offset="60.9375%" stop-color="#00ffdf"/><stop offset="60.9375%" stop-color="#00ffef"/><stop offset="62.5000%" stop-color="#00ffef"/><stop offset="62.5000%" stop-color="#00ffff"/><stop offset="64.0625%" stop-color="#00ffff"/><stop offset="64.0625%" stop-color="#00f0ff"/><stop offset="65.6250%" stop-color="#00f0ff"/><stop offset="65.6250%" stop-color="#00e0ff"/><stop offset="67.1875%" stop-color="#00e0ff"/><stop offset="67.1875%" stop-color="#00d0ff"/><stop offset="68.7500%" stop-color="#00d0ff"/><stop offset="68.7500%" stop-color="#00c1ff"/><stop offset="70.3125%" stop-color="#00c1ff"/><stop offset="70.3125%" stop-color="#00b1ff"/><stop offset="71.8750%" stop-color="#00b1ff"/><stop offset="71.8750%" stop-color="#00a1ff"/><stop offset="73.4375%" stop-color="#00a1ff"/><stop offset="73.4375%" stop-color="#0091ff"/><stop offset="75.0000%" stop-color="#0091ff"/><stop offset="75.0000%" stop-color="#0081ff"/><stop offset="76.5625%" stop-color="#0081ff"/><stop offset="76.5625%" stop-color="#0070ff"/><stop offset="78.1250%" stop-color="#0070ff"/><stop offset="78.1250%" stop-color="#005fff"/><stop offset="79.6875%" stop-color="#005fff"/><stop offset="79.6875%" stop-color="#004fff"/><stop offset="81.2500%" stop-color="#004fff"/><stop offset="81.2500%" stop-color="#003eff"/><stop offset="82.8125%" stop-color="#003eff"/><stop offset="82.8125%" stop-color="#002cff"/><stop offset="84.3750%" stop-color="#002cff"/><stop offset="84.3750%" stop-color="#001aff"/><stop offset="85.9375%" stop-color="#001aff"/><stop offset="85.9375%" stop-color="#0007ff"/><stop offset="87.5000%" stop-color="#0007ff"/><stop offset="87.5000%" stop-color="#0000ff"/><stop offset="89.0625%" stop-color="#0000ff"/><stop offset="89.0625%" stop-color="#0000f4"/><stop offset="90.6250%" stop-color="#0000f4"/><stop offset="90.6250%" stop-color="#0000e4"/><stop offset="92.1875%" stop-color="#0000e4"/><stop offset="92.1875%" stop-color="#0000d4"/><stop offset="93.7500%" stop-color="#0000d4"/><stop offset="93.7500%" stop-color="#0000c4"/><stop offset="95.3125%" stop-color="#0000c4"/><stop offset="95.3125%" stop-color="#0000b4"/><stop offset="96.8750%" stop-color="#0000b4"/><stop offset="96.8750%" stop-color="#0000a4"/><stop offset="98.4375%" stop-color="#0000a4"/><stop offset="98.4375%" stop-color="#000094"/><stop offset="100.0000%" stop-color="#000094"/></linearGradient></defs>
<rect x="227.80" y="242.30" width="10.50" height="173.70" fill="url(#cb227)"/>
<rect x="227.80" y="242.30" width="10.50" height="173.70" fill="none" stroke="#666" stroke-width="0.45"/>
<text x="241.00" y="418.30" class="t">5</text>
<path d="M238.30 372.57h-1.4" stroke="#333" stroke-width="0.5"/>
<text x="241.00" y="374.88" class="t">10</text>
<path d="M238.30 329.15h-1.4" stroke="#333" stroke-width="0.5"/>
<text x="241.00" y="331.45" class="t">15</text>
<path d="M238.30 285.73h-1.4" stroke="#333" stroke-width="0.5"/>
<text x="241.00" y="288.03" class="t">20</text>
<text x="241.00" y="244.60" class="t">25</text>
<text x="24.20" y="425.80" class="t" text-anchor="middle">1</text>
<text x="89.53" y="425.80" class="t" text-anchor="middle">2</text>
<text x="154.87" y="425.80" class="t" text-anchor="middle">3</text>
<text x="220.20" y="425.80" class="t" text-anchor="middle">4</text>
<text x="20.80" y="244.90" class="t" text-anchor="end">−2</text>
<text x="20.80" y="302.80" class="t" text-anchor="end">−4</text>
<text x="20.80" y="360.70" class="t" text-anchor="end">−6</text>
<text x="20.80" y="418.60" class="t" text-anchor="end">−8</text>
<text transform="translate(122.20 435.30) scale(0.900 1)" class="l" text-anchor="middle" textLength="61.67" lengthAdjust="spacing">Wind speed (m/s)</text>
<text transform="translate(11.00 329.15) rotate(-90) scale(0.900 1)" class="l" text-anchor="middle" textLength="98.89" lengthAdjust="spacing">Pavement temperature (°C)</text>
<text transform="translate(216.70 251.70) scale(0.900 1)" class="l" text-anchor="end" textLength="69.22" lengthAdjust="spacing">Water depth=2.5 mm</text>
<text x="133.70" y="455.00" class="c" text-anchor="middle">(<tspan class="cb">c</tspan>)</text>
<g>
<rect x="321.50" y="240.70" width="199.40" height="177.00" fill="#00f0ff"/>
<path d="M321.50 240.70 388.47 240.70 321.50 300.20ZM388.47 240.70 388.47 300.20 321.50 300.20ZM388.47 240.70 453.93 240.70 388.47 300.20ZM453.93 240.70 453.93 300.20 388.47 300.20ZM453.93 240.70 520.90 240.70 453.93 300.20ZM520.90 240.70 520.90 300.20 453.93 300.20ZM321.50 300.20 388.47 300.20 321.50 358.20ZM388.47 300.20 388.47 358.20 321.50 358.20ZM388.47 300.20 453.93 300.20 388.47 358.20ZM453.93 300.20 453.93 358.20 388.47 358.20ZM453.93 300.20 520.90 300.20 453.93 358.20ZM520.90 300.20 520.90 358.20 453.93 358.20ZM321.50 358.20 388.47 358.20 321.50 417.70ZM388.47 358.20 388.47 417.70 321.50 417.70ZM388.47 358.20 453.93 358.20 388.47 417.70ZM453.93 358.20 453.93 417.70 388.47 417.70ZM453.93 358.20 520.90 358.20 453.93 417.70ZM520.90 358.20 520.90 411.77 512.55 417.70 453.93 417.70Z" fill="#00ffff" stroke="#00ffff" stroke-width="0.35"/>
<path d="M321.50 240.70 388.47 240.70 321.50 300.20ZM388.47 240.70 388.47 300.20 321.50 300.20ZM388.47 240.70 453.93 240.70 388.47 300.20ZM453.93 240.70 453.93 300.20 388.47 300.20ZM453.93 240.70 520.90 240.70 453.93 300.20ZM520.90 240.70 520.90 300.20 453.93 300.20ZM321.50 300.20 388.47 300.20 321.50 358.20ZM388.47 300.20 388.47 358.20 321.50 358.20ZM388.47 300.20 453.93 300.20 388.47 358.20ZM453.93 300.20 453.93 358.20 388.47 358.20ZM453.93 300.20 520.90 300.20 453.93 358.20ZM520.90 300.20 520.90 358.20 453.93 358.20ZM321.50 358.20 388.47 358.20 321.50 417.70ZM388.47 358.20 388.47 417.70 321.50 417.70ZM388.47 358.20 453.93 358.20 388.47 417.70ZM453.93 358.20 453.93 417.70 388.47 417.70ZM453.93 358.20 520.90 358.20 453.93 417.70ZM520.90 358.20 520.90 399.75 495.62 417.70 453.93 417.70Z" fill="#00ffef" stroke="#00ffef" stroke-width="0.35"/>
<path d="M321.50 240.70 388.47 240.70 321.50 300.20ZM388.47 240.70 388.47 300.20 321.50 300.20ZM388.47 240.70 453.93 240.70 388.47 300.20ZM453.93 240.70 453.93 300.20 388.47 300.20ZM453.93 240.70 520.90 240.70 453.93 300.20ZM520.90 240.70 520.90 300.20 453.93 300.20ZM321.50 300.20 388.47 300.20 321.50 358.20ZM388.47 300.20 388.47 358.20 321.50 358.20ZM388.47 300.20 453.93 300.20 388.47 358.20ZM453.93 300.20 453.93 358.20 388.47 358.20ZM453.93 300.20 520.90 300.20 453.93 358.20ZM520.90 300.20 520.90 358.20 453.93 358.20ZM321.50 358.20 388.47 358.20 321.50 417.70ZM388.47 358.20 388.47 417.70 321.50 417.70ZM388.47 358.20 453.93 358.20 388.47 417.70ZM453.93 358.20 453.93 417.70 388.47 417.70ZM453.93 358.20 520.90 358.20 453.93 417.70ZM520.90 358.20 520.90 387.72 478.68 417.70 453.93 417.70Z" fill="#00ffdf" stroke="#00ffdf" stroke-width="0.35"/>
<path d="M321.50 240.70 388.47 240.70 321.50 300.20ZM388.47 240.70 388.47 300.20 321.50 300.20ZM388.47 240.70 453.93 240.70 388.47 300.20ZM453.93 240.70 453.93 300.20 388.47 300.20ZM453.93 240.70 520.90 240.70 453.93 300.20ZM520.90 240.70 520.90 300.20 453.93 300.20ZM321.50 300.20 388.47 300.20 321.50 358.20ZM388.47 300.20 388.47 358.20 321.50 358.20ZM388.47 300.20 453.93 300.20 388.47 358.20ZM453.93 300.20 453.93 358.20 388.47 358.20ZM453.93 300.20 520.90 300.20 453.93 358.20ZM520.90 300.20 520.90 358.20 453.93 358.20ZM321.50 358.20 388.47 358.20 321.50 417.70ZM388.47 358.20 388.47 417.70 321.50 417.70ZM388.47 358.20 453.93 358.20 388.47 417.70ZM453.93 358.20 453.93 417.70 388.47 417.70ZM453.93 358.20 520.90 358.20 453.93 417.70ZM520.90 358.20 520.90 375.69 461.74 417.70 453.93 417.70Z" fill="#00ffce" stroke="#00ffce" stroke-width="0.35"/>
<path d="M321.50 240.70 388.47 240.70 321.50 300.20ZM388.47 240.70 388.47 300.20 321.50 300.20ZM388.47 240.70 453.93 240.70 388.47 300.20ZM453.93 240.70 453.93 300.20 388.47 300.20ZM453.93 240.70 520.90 240.70 453.93 300.20ZM520.90 240.70 520.90 300.20 453.93 300.20ZM321.50 300.20 388.47 300.20 321.50 358.20ZM388.47 300.20 388.47 358.20 321.50 358.20ZM388.47 300.20 453.93 300.20 388.47 358.20ZM453.93 300.20 453.93 358.20 388.47 358.20ZM453.93 300.20 520.90 300.20 453.93 358.20ZM520.90 300.20 520.90 358.20 453.93 358.20ZM321.50 358.20 388.47 358.20 321.50 417.70ZM388.47 358.20 388.47 417.70 321.50 417.70ZM388.47 358.20 453.93 358.20 388.47 417.70ZM453.93 358.20 453.93 409.55 447.49 417.70 388.47 417.70ZM453.93 358.20 520.90 358.20 490.29 385.40 453.93 409.55ZM520.90 358.20 520.90 363.66 490.29 385.40Z" fill="#00ffbd" stroke="#00ffbd" stroke-width="0.35"/>
<path d="M321.50 240.70 388.47 240.70 321.50 300.20ZM388.47 240.70 388.47 300.20 321.50 300.20ZM388.47 240.70 453.93 240.70 388.47 300.20ZM453.93 240.70 453.93 300.20 388.47 300.20ZM453.93 240.70 520.90 240.70 453.93 300.20ZM520.90 240.70 520.90 300.20 453.93 300.20ZM321.50 300.20 388.47 300.20 321.50 358.20ZM388.47 300.20 388.47 358.20 321.50 358.20ZM388.47 300.20 453.93 300.20 388.47 358.20ZM453.93 300.20 453.93 358.20 388.47 358.20ZM453.93 300.20 520.90 300.20 453.93 358.20ZM520.90 300.20 520.90 354.18 508.49 358.20 453.93 358.20ZM321.50 358.20 388.47 358.20 321.50 417.70ZM388.47 358.20 388.47 417.70 321.50 417.70ZM388.47 358.20 453.93 358.20 388.47 417.70ZM453.93 358.20 453.93 394.45 435.55 417.70 388.47 417.70ZM453.93 358.20 508.49 358.20 453.93 394.45Z" fill="#00ffac" stroke="#00ffac" stroke-width="0.35"/>
<path d="M321.50 240.70 388.47 240.70 321.50 300.20ZM388.47 240.70 388.47 300.20 321.50 300.20ZM388.47 240.70 453.93 240.70 388.47 300.20ZM453.93 240.70 453.93 300.20 388.47 300.20ZM453.93 240.70 520.90 240.70 453.93 300.20ZM520.90 240.70 520.90 300.20 453.93 300.20ZM321.50 300.20 388.47 300.20 321.50 358.20ZM388.47 300.20 388.47 358.20 321.50 358.20ZM388.47 300.20 453.93 300.20 388.47 358.20ZM453.93 300.20 453.93 358.20 388.47 358.20ZM453.93 300.20 520.90 300.20 453.93 358.20ZM520.90 300.20 520.90 346.80 485.76 358.20 453.93 358.20ZM321.50 358.20 388.47 358.20 321.50 417.70ZM388.47 358.20 388.47 417.70 321.50 417.70ZM388.47 358.20 453.93 358.20 388.47 417.70ZM453.93 358.20 453.93 379.35 423.61 417.70 388.47 417.70ZM453.93 358.20 485.76 358.20 453.93 379.35Z" fill="#00ff9b" stroke="#00ff9b" stroke-width="0.35"/>
<path d="M321.50 240.70 388.47 240.70 321.50 300.20ZM388.47 240.70 388.47 300.20 321.50 300.20ZM388.47 240.70 453.93 240.70 388.47 300.20ZM453.93 240.70 453.93 300.20 388.47 300.20ZM453.93 240.70 520.90 240.70 453.93 300.20ZM520.90 240.70 520.90 300.20 453.93 300.20ZM321.50 300.20 388.47 300.20 321.50 358.20ZM388.47 300.20 388.47 358.20 321.50 358.20ZM388.47 300.20 453.93 300.20 388.47 358.20ZM453.93 300.20 453.93 358.20 388.47 358.20ZM453.93 300.20 520.90 300.20 453.93 358.20ZM520.90 300.20 520.90 339.43 463.03 358.20 453.93 358.20ZM321.50 358.20 388.47 358.20 321.50 417.70ZM388.47 358.20 388.47 417.70 321.50 417.70ZM388.47 358.20 453.93 358.20 388.47 417.70ZM453.93 358.20 453.93 364.24 411.66 417.70 388.47 417.70ZM453.93 358.20 463.03 358.20 453.93 364.24Z" fill="#00ff89" stroke="#00ff89" stroke-width="0.35"/>
<path d="M321.50 240.70 388.47 240.70 321.50 300.20ZM388.47 240.70 388.47 300.20 321.50 300.20ZM388.47 240.70 453.93 240.70 388.47 300.20ZM453.93 240.70 453.93 300.20 388.47 300.20ZM453.93 240.70 520.90 240.70 453.93 300.20ZM520.90 240.70 520.90 300.20 453.93 300.20ZM321.50 300.20 388.47 300.20 321.50 358.20ZM388.47 300.20 388.47 358.20 321.50 358.20ZM388.47 300.20 453.93 300.20 388.47 358.20ZM453.93 300.20 453.93 355.67 443.70 358.20 388.47 358.20ZM453.93 300.20 520.90 300.20 462.10 351.13 453.93 355.67ZM520.90 300.20 520.90 332.06 462.10 351.13ZM321.50 358.20 388.47 358.20 321.50 417.70ZM388.47 358.20 388.47 417.70 321.50 417.70ZM388.47 358.20 443.70 358.20 428.46 381.35 388.47 417.70ZM399.72 417.70 388.47 417.70 428.46 381.35Z" fill="#00ff77" stroke="#00ff77" stroke-width="0.35"/>
<path d="M321.50 240.70 388.47 240.70 321.50 300.20ZM388.47 240.70 388.47 300.20 321.50 300.20ZM388.47 240.70 453.93 240.70 388.47 300.20ZM453.93 240.70 453.93 300.20 388.47 300.20ZM453.93 240.70 520.90 240.70 453.93 300.20ZM520.90 240.70 520.90 300.20 453.93 300.20ZM321.50 300.20 388.47 300.20 321.50 358.20ZM388.47 300.20 388.47 358.20 321.50 358.20ZM388.47 300.20 453.93 300.20 388.47 358.20ZM453.93 300.20 453.93 351.46 426.66 358.20 388.47 358.20ZM453.93 300.20 520.90 300.20 475.70 339.35 453.93 351.46ZM520.90 300.20 520.90 324.69 475.70 339.35ZM321.50 358.20 388.47 358.20 321.50 417.70ZM388.47 358.20 388.47 416.20 388.10 417.70 321.50 417.70ZM388.47 358.20 426.66 358.20 388.47 416.20Z" fill="#00ff64" stroke="#00ff64" stroke-width="0.35"/>
<path d="M321.50 240.70 388.47 240.70 321.50 300.20ZM388.47 240.70 388.47 300.20 321.50 300.20ZM388.47 240.70 453.93 240.70 388.47 300.20ZM453.93 240.70 453.93 300.20 388.47 300.20ZM453.93 240.70 520.90 240.70 453.93 300.20ZM520.90 240.70 520.90 300.20 453.93 300.20ZM321.50 300.20 388.47 300.20 321.50 358.20ZM388.47 300.20 388.47 358.20 321.50 358.20ZM388.47 300.20 453.93 300.20 388.47 358.20ZM453.93 300.20 453.93 347.24 409.61 358.20 388.47 358.20ZM453.93 300.20 520.90 300.20 489.31 327.56 453.93 347.24ZM520.90 300.20 520.90 317.32 489.31 327.56ZM321.50 358.20 388.47 358.20 321.50 417.70ZM388.47 358.20 388.47 390.31 381.71 417.70 321.50 417.70ZM388.47 358.20 409.61 358.20 388.47 390.31Z" fill="#59ff4f" stroke="#59ff4f" stroke-width="0.35"/>
<path d="M321.50 240.70 388.47 240.70 321.50 300.20ZM388.47 240.70 388.47 300.20 321.50 300.20ZM388.47 240.70 453.93 240.70 388.47 300.20ZM453.93 240.70 453.93 300.20 388.47 300.20ZM453.93 240.70 520.90 240.70 453.93 300.20ZM520.90 240.70 520.90 300.20 453.93 300.20ZM321.50 300.20 388.47 300.20 321.50 358.20ZM388.47 300.20 388.47 358.20 321.50 358.20ZM388.47 300.20 453.93 300.20 388.47 358.20ZM453.93 300.20 453.93 343.03 392.56 358.20 388.47 358.20ZM453.93 300.20 520.90 300.20 502.91 315.78 453.93 343.03ZM520.90 300.20 520.90 309.95 502.91 315.78ZM321.50 358.20 388.47 358.20 321.50 417.70ZM388.47 358.20 388.47 364.41 375.32 417.70 321.50 417.70ZM388.47 358.20 392.56 358.20 388.47 364.41Z" fill="#80ff37" stroke="#80ff37" stroke-width="0.35"/>
<path d="M321.50 240.70 388.47 240.70 321.50 300.20ZM388.47 240.70 388.47 300.20 321.50 300.20ZM388.47 240.70 453.93 240.70 388.47 300.20ZM453.93 240.70 453.93 300.20 388.47 300.20ZM453.93 240.70 520.90 240.70 453.93 300.20ZM520.90 240.70 520.90 300.20 453.93 300.20ZM321.50 300.20 388.47 300.20 321.50 358.20ZM388.47 300.20 388.47 354.48 383.45 358.20 321.50 358.20ZM388.47 300.20 453.93 300.20 393.48 353.76 388.47 354.48ZM453.93 300.20 453.93 338.81 393.48 353.76ZM453.93 300.20 520.90 300.20 516.52 303.99 453.93 338.81ZM520.90 300.20 520.90 302.57 516.52 303.99ZM321.50 358.20 383.45 358.20 382.25 363.72 321.50 417.70ZM368.93 417.70 321.50 417.70 382.25 363.72Z" fill="#9fff13" stroke="#9fff13" stroke-width="0.35"/>
<path d="M321.50 240.70 388.47 240.70 321.50 300.20ZM388.47 240.70 388.47 300.20 321.50 300.20ZM388.47 240.70 453.93 240.70 388.47 300.20ZM453.93 240.70 453.93 300.20 388.47 300.20ZM453.93 240.70 520.90 240.70 453.93 300.20ZM520.90 240.70 520.90 297.01 515.76 300.20 453.93 300.20ZM321.50 300.20 388.47 300.20 321.50 358.20ZM388.47 300.20 388.47 349.58 376.85 358.20 321.50 358.20ZM388.47 300.20 453.93 300.20 400.08 347.91 388.47 349.58ZM453.93 300.20 453.93 334.60 400.08 347.91ZM453.93 300.20 515.76 300.20 453.93 334.60ZM321.50 358.20 376.85 358.20 374.07 370.99 321.50 417.70ZM362.54 417.70 321.50 417.70 374.07 370.99Z" fill="#b9ff00" stroke="#b9ff00" stroke-width="0.35"/>
<path d="M321.50 240.70 388.47 240.70 321.50 300.20ZM388.47 240.70 388.47 300.20 321.50 300.20ZM388.47 240.70 453.93 240.70 388.47 300.20ZM453.93 240.70 453.93 300.20 388.47 300.20ZM453.93 240.70 520.90 240.70 453.93 300.20ZM520.90 240.70 520.90 292.30 508.19 300.20 453.93 300.20ZM321.50 300.20 388.47 300.20 321.50 358.20ZM388.47 300.20 388.47 344.68 370.25 358.20 321.50 358.20ZM388.47 300.20 453.93 300.20 406.68 342.06 388.47 344.68ZM453.93 300.20 453.93 330.38 406.68 342.06ZM453.93 300.20 508.19 300.20 453.93 330.38ZM321.50 358.20 370.25 358.20 365.89 378.26 321.50 417.70ZM356.16 417.70 321.50 417.70 365.89 378.26Z" fill="#d2ff00" stroke="#d2ff00" stroke-width="0.35"/>
<path d="M321.50 240.70 388.47 240.70 321.50 300.20ZM388.47 240.70 388.47 300.20 321.50 300.20ZM388.47 240.70 453.93 240.70 388.47 300.20ZM453.93 240.70 453.93 300.20 388.47 300.20ZM453.93 240.70 520.90 240.70 453.93 300.20ZM520.90 240.70 520.90 287.59 500.61 300.20 453.93 300.20ZM321.50 300.20 388.47 300.20 321.50 358.20ZM388.47 300.20 388.47 339.78 363.65 358.20 321.50 358.20ZM388.47 300.20 453.93 300.20 413.28 336.22 388.47 339.78ZM453.93 300.20 453.93 326.17 413.28 336.22ZM453.93 300.20 500.61 300.20 453.93 326.17ZM321.50 358.20 363.65 358.20 357.70 385.53 321.50 417.70ZM349.77 417.70 321.50 417.70 357.70 385.53Z" fill="#e9ff00" stroke="#e9ff00" stroke-width="0.35"/>
<path d="M321.50 240.70 388.47 240.70 321.50 300.20ZM388.47 240.70 388.47 300.20 321.50 300.20ZM388.47 240.70 453.93 240.70 388.47 300.20ZM453.93 240.70 453.93 300.20 388.47 300.20ZM453.93 240.70 520.90 240.70 453.93 300.20ZM520.90 240.70 520.90 282.89 493.03 300.20 453.93 300.20ZM321.50 300.20 388.47 300.20 321.50 358.20ZM388.47 300.20 388.47 334.88 357.05 358.20 321.50 358.20ZM388.47 300.20 453.93 300.20 419.88 330.37 388.47 334.88ZM453.93 300.20 453.93 321.95 419.88 330.37ZM453.93 300.20 493.03 300.20 453.93 321.95ZM321.50 358.20 357.05 358.20 349.52 392.80 321.50 417.70ZM343.38 417.70 321.50 417.70 349.52 392.80Z" fill="#ffff00" stroke="#ffff00" stroke-width="0.35"/>
<path d="M321.50 240.70 388.47 240.70 321.50 300.20ZM388.47 240.70 388.47 300.20 321.50 300.20ZM388.47 240.70 453.93 240.70 388.47 300.20ZM453.93 240.70 453.93 300.20 388.47 300.20ZM453.93 240.70 520.90 240.70 453.93 300.20ZM520.90 240.70 520.90 278.18 485.45 300.20 453.93 300.20ZM321.50 300.20 388.47 300.20 321.50 358.20ZM388.47 300.20 388.47 329.98 350.45 358.20 321.50 358.20ZM388.47 300.20 453.93 300.20 426.48 324.52 388.47 329.98ZM453.93 300.20 453.93 317.73 426.48 324.52ZM453.93 300.20 485.45 300.20 453.93 317.73ZM321.50 358.20 350.45 358.20 341.34 400.07 321.50 417.70ZM336.99 417.70 321.50 417.70 341.34 400.07Z" fill="#fff000" stroke="#fff000" stroke-width="0.35"/>
<path d="M321.50 240.70 388.47 240.70 321.50 300.20ZM388.47 240.70 388.47 300.20 321.50 300.20ZM388.47 240.70 453.93 240.70 388.47 300.20ZM453.93 240.70 453.93 300.20 388.47 300.20ZM453.93 240.70 520.90 240.70 453.93 300.20ZM520.90 240.70 520.90 273.47 477.88 300.20 453.93 300.20ZM321.50 300.20 388.47 300.20 321.50 358.20ZM388.47 300.20 388.47 325.09 343.85 358.20 321.50 358.20ZM388.47 300.20 453.93 300.20 433.08 318.68 388.47 325.09ZM453.93 300.20 453.93 313.52 433.08 318.68ZM453.93 300.20 477.88 300.20 453.93 313.52ZM321.50 358.20 343.85 358.20 333.16 407.34 321.50 417.70ZM330.60 417.70 321.50 417.70 333.16 407.34Z" fill="#ffe000" stroke="#ffe000" stroke-width="0.35"/>
<path d="M321.50 240.70 388.47 240.70 321.50 300.20ZM388.47 240.70 388.47 300.20 321.50 300.20ZM388.47 240.70 453.93 240.70 388.47 300.20ZM453.93 240.70 453.93 300.20 388.47 300.20ZM453.93 240.70 520.90 240.70 453.93 300.20ZM520.90 240.70 520.90 268.76 470.30 300.20 453.93 300.20ZM321.50 300.20 388.47 300.20 321.50 358.20ZM388.47 300.20 388.47 320.19 337.25 358.20 321.50 358.20ZM388.47 300.20 453.93 300.20 439.68 312.83 388.47 320.19ZM453.93 300.20 453.93 309.30 439.68 312.83ZM453.93 300.20 470.30 300.20 453.93 309.30ZM321.50 358.20 337.25 358.20 324.98 414.61 321.50 417.70ZM324.22 417.70 321.50 417.70 324.98 414.61Z" fill="#ffd000" stroke="#ffd000" stroke-width="0.35"/>
<path d="M321.50 240.70 388.47 240.70 321.50 300.20ZM388.47 240.70 388.47 300.20 321.50 300.20ZM388.47 240.70 453.93 240.70 388.47 300.20ZM453.93 240.70 453.93 300.20 388.47 300.20ZM453.93 240.70 520.90 240.70 453.93 300.20ZM520.90 240.70 520.90 264.06 462.72 300.20 453.93 300.20ZM321.50 300.20 388.47 300.20 321.50 358.20ZM388.47 300.20 388.47 315.29 330.66 358.20 321.50 358.20ZM388.47 300.20 453.93 300.20 446.28 306.98 388.47 315.29ZM453.93 300.20 453.93 305.09 446.28 306.98ZM453.93 300.20 462.72 300.20 453.93 305.09ZM321.50 358.20 330.66 358.20 321.50 400.27Z" fill="#ffc100" stroke="#ffc100" stroke-width="0.35"/>
<path d="M321.50 240.70 388.47 240.70 321.50 300.20ZM388.47 240.70 388.47 300.20 321.50 300.20ZM388.47 240.70 453.93 240.70 388.47 300.20ZM453.93 240.70 453.93 300.20 388.47 300.20ZM453.93 240.70 520.90 240.70 453.93 300.20ZM520.90 240.70 520.90 259.35 455.15 300.20 453.93 300.20ZM321.50 300.20 388.47 300.20 321.50 358.20ZM388.47 300.20 388.47 310.39 324.06 358.20 321.50 358.20ZM388.47 300.20 453.93 300.20 452.88 301.14 388.47 310.39ZM453.93 300.20 453.93 300.87 452.88 301.14ZM453.93 300.20 455.15 300.20 453.93 300.87ZM321.50 358.20 324.06 358.20 321.50 369.94Z" fill="#ffb100" stroke="#ffb100" stroke-width="0.35"/>
<path d="M321.50 240.70 388.47 240.70 321.50 300.20ZM388.47 240.70 388.47 300.20 321.50 300.20ZM388.47 240.70 453.93 240.70 388.47 300.20ZM453.93 240.70 453.93 290.68 425.29 300.20 388.47 300.20ZM453.93 240.70 520.90 240.70 468.73 287.05 453.93 290.68ZM520.90 240.70 520.90 254.64 468.73 287.05ZM321.50 300.20 388.47 300.20 345.74 337.21 321.50 353.89ZM388.47 300.20 388.47 305.49 345.74 337.21ZM388.47 300.20 425.29 300.20 388.47 305.49Z" fill="#ffa100" stroke="#ffa100" stroke-width="0.35"/>
<path d="M321.50 240.70 388.47 240.70 321.50 300.20ZM388.47 240.70 388.47 300.20 321.50 300.20ZM388.47 240.70 453.93 240.70 388.47 300.20ZM453.93 240.70 453.93 279.36 391.19 300.20 388.47 300.20ZM453.93 240.70 520.90 240.70 486.34 271.40 453.93 279.36ZM520.90 240.70 520.90 249.94 486.34 271.40ZM321.50 300.20 388.47 300.20 385.30 302.94 321.50 346.85ZM388.47 300.20 388.47 300.59 385.30 302.94ZM388.47 300.20 391.19 300.20 388.47 300.59Z" fill="#ff9100" stroke="#ff9100" stroke-width="0.35"/>
<path d="M321.50 240.70 388.47 240.70 321.50 300.20ZM388.47 240.70 388.47 296.41 379.06 300.20 321.50 300.20ZM388.47 240.70 453.93 240.70 406.54 283.77 388.47 296.41ZM453.93 240.70 453.93 268.03 406.54 283.77ZM453.93 240.70 520.90 240.70 503.96 255.75 453.93 268.03ZM520.90 240.70 520.90 245.23 503.96 255.75ZM321.50 300.20 379.06 300.20 321.50 339.81Z" fill="#ff8100" stroke="#ff8100" stroke-width="0.35"/>
<path d="M321.50 240.70 388.47 240.70 321.50 300.20ZM388.47 240.70 388.47 292.29 368.83 300.20 321.50 300.20ZM388.47 240.70 453.93 240.70 426.19 265.92 388.47 292.29ZM453.93 240.70 453.93 256.70 426.19 265.92ZM453.93 240.70 519.15 240.70 453.93 256.70ZM321.50 300.20 368.83 300.20 321.50 332.77Z" fill="#ff7000" stroke="#ff7000" stroke-width="0.35"/>
<path d="M321.50 240.70 388.47 240.70 321.50 300.20ZM388.47 240.70 388.47 288.17 358.60 300.20 321.50 300.20ZM388.47 240.70 453.93 240.70 445.83 248.06 388.47 288.17ZM453.93 240.70 453.93 245.37 445.83 248.06ZM453.93 240.70 472.97 240.70 453.93 245.37ZM321.50 300.20 358.60 300.20 321.50 325.73Z" fill="#ff5f00" stroke="#ff5f00" stroke-width="0.35"/>
<path d="M321.50 240.70 388.47 240.70 321.50 300.20ZM388.47 240.70 388.47 284.05 348.37 300.20 321.50 300.20ZM388.47 240.70 450.47 240.70 388.47 284.05ZM321.50 300.20 348.37 300.20 321.50 318.69Z" fill="#ff4f00" stroke="#ff4f00" stroke-width="0.35"/>
<path d="M321.50 240.70 388.47 240.70 321.50 300.20ZM388.47 240.70 388.47 279.93 338.14 300.20 321.50 300.20ZM388.47 240.70 444.58 240.70 388.47 279.93ZM321.50 300.20 338.14 300.20 321.50 311.65Z" fill="#ff3e00" stroke="#ff3e00" stroke-width="0.35"/>
<path d="M321.50 240.70 388.47 240.70 321.50 300.20ZM388.47 240.70 388.47 275.81 327.91 300.20 321.50 300.20ZM388.47 240.70 438.69 240.70 388.47 275.81ZM321.50 300.20 327.91 300.20 321.50 304.61Z" fill="#ff2c00" stroke="#ff2c00" stroke-width="0.35"/>
<path d="M321.50 240.70 388.47 240.70 324.67 297.39 321.50 298.13ZM388.47 240.70 388.47 271.69 324.67 297.39ZM388.47 240.70 432.80 240.70 388.47 271.69Z" fill="#ff1a00" stroke="#ff1a00" stroke-width="0.35"/>
<path d="M321.50 240.70 388.47 240.70 333.15 289.85 321.50 292.60ZM388.47 240.70 388.47 267.57 333.15 289.85ZM388.47 240.70 426.90 240.70 388.47 267.57Z" fill="#ff0700" stroke="#ff0700" stroke-width="0.35"/>
<path d="M321.50 240.70 388.47 240.70 341.62 282.32 321.50 287.06ZM388.47 240.70 388.47 263.46 341.62 282.32ZM388.47 240.70 421.01 240.70 388.47 263.46Z" fill="#ff0000" stroke="#ff0000" stroke-width="0.35"/>
<path d="M321.50 240.70 388.47 240.70 350.10 274.78 321.50 281.53ZM388.47 240.70 388.47 259.34 350.10 274.78ZM388.47 240.70 415.12 240.70 388.47 259.34Z" fill="#ff0000" stroke="#ff0000" stroke-width="0.35"/>
<path d="M321.50 240.70 388.47 240.70 358.58 267.25 321.50 275.99ZM388.47 240.70 388.47 255.22 358.58 267.25ZM388.47 240.70 409.23 240.70 388.47 255.22Z" fill="#ff0000" stroke="#ff0000" stroke-width="0.35"/>
<path d="M321.50 240.70 388.47 240.70 367.06 259.72 321.50 270.46ZM388.47 240.70 388.47 251.10 367.06 259.72ZM388.47 240.70 403.34 240.70 388.47 251.10Z" fill="#f20000" stroke="#f20000" stroke-width="0.35"/>
<path d="M321.50 240.70 388.47 240.70 375.54 252.18 321.50 264.93ZM388.47 240.70 388.47 246.98 375.54 252.18ZM388.47 240.70 397.45 240.70 388.47 246.98Z" fill="#e00000" stroke="#e00000" stroke-width="0.35"/>
<path d="M321.50 240.70 388.47 240.70 384.02 244.65 321.50 259.39ZM388.47 240.70 388.47 242.86 384.02 244.65ZM388.47 240.70 391.55 240.70 388.47 242.86Z" fill="#cd0000" stroke="#cd0000" stroke-width="0.35"/>
<path d="M321.50 240.70 377.30 240.70 321.50 253.86Z" fill="#bb0000" stroke="#bb0000" stroke-width="0.35"/>
<path d="M321.50 240.70 353.82 240.70 321.50 248.32Z" fill="#a90000" stroke="#a90000" stroke-width="0.35"/>
<path d="M321.50 240.70 330.35 240.70 321.50 242.79Z" fill="#960000" stroke="#960000" stroke-width="0.35"/>
</g>
<path fill="#fff" fill-rule="evenodd" d="M320.00 239.20H522.40V419.20H320.00ZM323.00 242.20H519.40V416.20H323.00Z"/>
<path d="M321.70 240.90L324.30 243.50" stroke="#333" stroke-width="0.45"/><path d="M321.70 243.50L324.30 240.90" stroke="#111" stroke-width="0.65"/>
<path d="M387.17 240.90L389.77 243.50" stroke="#333" stroke-width="0.45"/><path d="M387.17 243.50L389.77 240.90" stroke="#111" stroke-width="0.65"/>
<path d="M452.63 240.90L455.23 243.50" stroke="#333" stroke-width="0.45"/><path d="M452.63 243.50L455.23 240.90" stroke="#111" stroke-width="0.65"/>
<path d="M518.10 240.90L520.70 243.50" stroke="#333" stroke-width="0.45"/><path d="M518.10 243.50L520.70 240.90" stroke="#111" stroke-width="0.65"/>
<path d="M321.70 298.90L324.30 301.50" stroke="#333" stroke-width="0.45"/><path d="M321.70 301.50L324.30 298.90" stroke="#111" stroke-width="0.65"/>
<path d="M387.17 298.90L389.77 301.50" stroke="#333" stroke-width="0.45"/><path d="M387.17 301.50L389.77 298.90" stroke="#111" stroke-width="0.65"/>
<path d="M452.63 298.90L455.23 301.50" stroke="#333" stroke-width="0.45"/><path d="M452.63 301.50L455.23 298.90" stroke="#111" stroke-width="0.65"/>
<path d="M518.10 298.90L520.70 301.50" stroke="#333" stroke-width="0.45"/><path d="M518.10 301.50L520.70 298.90" stroke="#111" stroke-width="0.65"/>
<path d="M321.70 356.90L324.30 359.50" stroke="#333" stroke-width="0.45"/><path d="M321.70 359.50L324.30 356.90" stroke="#111" stroke-width="0.65"/>
<path d="M387.17 356.90L389.77 359.50" stroke="#333" stroke-width="0.45"/><path d="M387.17 359.50L389.77 356.90" stroke="#111" stroke-width="0.65"/>
<path d="M452.63 356.90L455.23 359.50" stroke="#333" stroke-width="0.45"/><path d="M452.63 359.50L455.23 356.90" stroke="#111" stroke-width="0.65"/>
<path d="M518.10 356.90L520.70 359.50" stroke="#333" stroke-width="0.45"/><path d="M518.10 359.50L520.70 356.90" stroke="#111" stroke-width="0.65"/>
<path d="M321.70 414.90L324.30 417.50" stroke="#333" stroke-width="0.45"/><path d="M321.70 417.50L324.30 414.90" stroke="#111" stroke-width="0.65"/>
<path d="M387.17 414.90L389.77 417.50" stroke="#333" stroke-width="0.45"/><path d="M387.17 417.50L389.77 414.90" stroke="#111" stroke-width="0.65"/>
<path d="M452.63 414.90L455.23 417.50" stroke="#333" stroke-width="0.45"/><path d="M452.63 417.50L455.23 414.90" stroke="#111" stroke-width="0.65"/>
<path d="M518.10 414.90L520.70 417.50" stroke="#333" stroke-width="0.45"/><path d="M518.10 417.50L520.70 414.90" stroke="#111" stroke-width="0.65"/>
<defs><linearGradient id="cb527" x1="0" y1="0" x2="0" y2="1"><stop offset="0.0000%" stop-color="#960000"/><stop offset="1.5625%" stop-color="#960000"/><stop offset="1.5625%" stop-color="#a90000"/><stop offset="3.1250%" stop-color="#a90000"/><stop offset="3.1250%" stop-color="#bb0000"/><stop offset="4.6875%" stop-color="#bb0000"/><stop offset="4.6875%" stop-color="#cd0000"/><stop offset="6.2500%" stop-color="#cd0000"/><stop offset="6.2500%" stop-color="#e00000"/><stop offset="7.8125%" stop-color="#e00000"/><stop offset="7.8125%" stop-color="#f20000"/><stop offset="9.3750%" stop-color="#f20000"/><stop offset="9.3750%" stop-color="#ff0000"/><stop offset="10.9375%" stop-color="#ff0000"/><stop offset="10.9375%" stop-color="#ff0000"/><stop offset="12.5000%" stop-color="#ff0000"/><stop offset="12.5000%" stop-color="#ff0000"/><stop offset="14.0625%" stop-color="#ff0000"/><stop offset="14.0625%" stop-color="#ff0700"/><stop offset="15.6250%" stop-color="#ff0700"/><stop offset="15.6250%" stop-color="#ff1a00"/><stop offset="17.1875%" stop-color="#ff1a00"/><stop offset="17.1875%" stop-color="#ff2c00"/><stop offset="18.7500%" stop-color="#ff2c00"/><stop offset="18.7500%" stop-color="#ff3e00"/><stop offset="20.3125%" stop-color="#ff3e00"/><stop offset="20.3125%" stop-color="#ff4f00"/><stop offset="21.8750%" stop-color="#ff4f00"/><stop offset="21.8750%" stop-color="#ff5f00"/><stop offset="23.4375%" stop-color="#ff5f00"/><stop offset="23.4375%" stop-color="#ff7000"/><stop offset="25.0000%" stop-color="#ff7000"/><stop offset="25.0000%" stop-color="#ff8100"/><stop offset="26.5625%" stop-color="#ff8100"/><stop offset="26.5625%" stop-color="#ff9100"/><stop offset="28.1250%" stop-color="#ff9100"/><stop offset="28.1250%" stop-color="#ffa100"/><stop offset="29.6875%" stop-color="#ffa100"/><stop offset="29.6875%" stop-color="#ffb100"/><stop offset="31.2500%" stop-color="#ffb100"/><stop offset="31.2500%" stop-color="#ffc100"/><stop offset="32.8125%" stop-color="#ffc100"/><stop offset="32.8125%" stop-color="#ffd000"/><stop offset="34.3750%" stop-color="#ffd000"/><stop offset="34.3750%" stop-color="#ffe000"/><stop offset="35.9375%" stop-color="#ffe000"/><stop offset="35.9375%" stop-color="#fff000"/><stop offset="37.5000%" stop-color="#fff000"/><stop offset="37.5000%" stop-color="#ffff00"/><stop offset="39.0625%" stop-color="#ffff00"/><stop offset="39.0625%" stop-color="#e9ff00"/><stop offset="40.6250%" stop-color="#e9ff00"/><stop offset="40.6250%" stop-color="#d2ff00"/><stop offset="42.1875%" stop-color="#d2ff00"/><stop offset="42.1875%" stop-color="#b9ff00"/><stop offset="43.7500%" stop-color="#b9ff00"/><stop offset="43.7500%" stop-color="#9fff13"/><stop offset="45.3125%" stop-color="#9fff13"/><stop offset="45.3125%" stop-color="#80ff37"/><stop offset="46.8750%" stop-color="#80ff37"/><stop offset="46.8750%" stop-color="#59ff4f"/><stop offset="48.4375%" stop-color="#59ff4f"/><stop offset="48.4375%" stop-color="#00ff64"/><stop offset="50.0000%" stop-color="#00ff64"/><stop offset="50.0000%" stop-color="#00ff77"/><stop offset="51.5625%" stop-color="#00ff77"/><stop offset="51.5625%" stop-color="#00ff89"/><stop offset="53.1250%" stop-color="#00ff89"/><stop offset="53.1250%" stop-color="#00ff9b"/><stop offset="54.6875%" stop-color="#00ff9b"/><stop offset="54.6875%" stop-color="#00ffac"/><stop offset="56.2500%" stop-color="#00ffac"/><stop offset="56.2500%" stop-color="#00ffbd"/><stop offset="57.8125%" stop-color="#00ffbd"/><stop offset="57.8125%" stop-color="#00ffce"/><stop offset="59.3750%" stop-color="#00ffce"/><stop offset="59.3750%" stop-color="#00ffdf"/><stop offset="60.9375%" stop-color="#00ffdf"/><stop offset="60.9375%" stop-color="#00ffef"/><stop offset="62.5000%" stop-color="#00ffef"/><stop offset="62.5000%" stop-color="#00ffff"/><stop offset="64.0625%" stop-color="#00ffff"/><stop offset="64.0625%" stop-color="#00f0ff"/><stop offset="65.6250%" stop-color="#00f0ff"/><stop offset="65.6250%" stop-color="#00e0ff"/><stop offset="67.1875%" stop-color="#00e0ff"/><stop offset="67.1875%" stop-color="#00d0ff"/><stop offset="68.7500%" stop-color="#00d0ff"/><stop offset="68.7500%" stop-color="#00c1ff"/><stop offset="70.3125%" stop-color="#00c1ff"/><stop offset="70.3125%" stop-color="#00b1ff"/><stop offset="71.8750%" stop-color="#00b1ff"/><stop offset="71.8750%" stop-color="#00a1ff"/><stop offset="73.4375%" stop-color="#00a1ff"/><stop offset="73.4375%" stop-color="#0091ff"/><stop offset="75.0000%" stop-color="#0091ff"/><stop offset="75.0000%" stop-color="#0081ff"/><stop offset="76.5625%" stop-color="#0081ff"/><stop offset="76.5625%" stop-color="#0070ff"/><stop offset="78.1250%" stop-color="#0070ff"/><stop offset="78.1250%" stop-color="#005fff"/><stop offset="79.6875%" stop-color="#005fff"/><stop offset="79.6875%" stop-color="#004fff"/><stop offset="81.2500%" stop-color="#004fff"/><stop offset="81.2500%" stop-color="#003eff"/><stop offset="82.8125%" stop-color="#003eff"/><stop offset="82.8125%" stop-color="#002cff"/><stop offset="84.3750%" stop-color="#002cff"/><stop offset="84.3750%" stop-color="#001aff"/><stop offset="85.9375%" stop-color="#001aff"/><stop offset="85.9375%" stop-color="#0007ff"/><stop offset="87.5000%" stop-color="#0007ff"/><stop offset="87.5000%" stop-color="#0000ff"/><stop offset="89.0625%" stop-color="#0000ff"/><stop offset="89.0625%" stop-color="#0000f4"/><stop offset="90.6250%" stop-color="#0000f4"/><stop offset="90.6250%" stop-color="#0000e4"/><stop offset="92.1875%" stop-color="#0000e4"/><stop offset="92.1875%" stop-color="#0000d4"/><stop offset="93.7500%" stop-color="#0000d4"/><stop offset="93.7500%" stop-color="#0000c4"/><stop offset="95.3125%" stop-color="#0000c4"/><stop offset="95.3125%" stop-color="#0000b4"/><stop offset="96.8750%" stop-color="#0000b4"/><stop offset="96.8750%" stop-color="#0000a4"/><stop offset="98.4375%" stop-color="#0000a4"/><stop offset="98.4375%" stop-color="#000094"/><stop offset="100.0000%" stop-color="#000094"/></linearGradient></defs>
<rect x="527.00" y="242.20" width="10.80" height="174.00" fill="url(#cb527)"/>
<rect x="527.00" y="242.20" width="10.80" height="174.00" fill="none" stroke="#666" stroke-width="0.45"/>
<text x="540.50" y="418.50" class="t">5</text>
<path d="M537.80 372.70h-1.4" stroke="#333" stroke-width="0.5"/>
<text x="540.50" y="375.00" class="t">10</text>
<path d="M537.80 329.20h-1.4" stroke="#333" stroke-width="0.5"/>
<text x="540.50" y="331.50" class="t">15</text>
<path d="M537.80 285.70h-1.4" stroke="#333" stroke-width="0.5"/>
<text x="540.50" y="288.00" class="t">20</text>
<text x="540.50" y="244.50" class="t">25</text>
<text x="323.00" y="426.00" class="t" text-anchor="middle">1</text>
<text x="388.47" y="426.00" class="t" text-anchor="middle">2</text>
<text x="453.93" y="426.00" class="t" text-anchor="middle">3</text>
<text x="519.40" y="426.00" class="t" text-anchor="middle">4</text>
<text x="319.60" y="244.80" class="t" text-anchor="end">−2</text>
<text x="319.60" y="302.80" class="t" text-anchor="end">−4</text>
<text x="319.60" y="360.80" class="t" text-anchor="end">−6</text>
<text x="319.60" y="418.80" class="t" text-anchor="end">−8</text>
<text transform="translate(421.20 434.15) scale(0.900 1)" class="l" text-anchor="middle" textLength="61.67" lengthAdjust="spacing">Wind speed (m/s)</text>
<text transform="translate(309.80 329.20) rotate(-90) scale(0.900 1)" class="l" text-anchor="middle" textLength="98.89" lengthAdjust="spacing">Pavement temperature (°C)</text>
<text transform="translate(514.90 251.60) scale(0.900 1)" class="l" text-anchor="end" textLength="69.78" lengthAdjust="spacing">Water depth=3.5 mm</text>
<text x="432.70" y="455.20" class="c" text-anchor="middle">(<tspan class="cb">d</tspan>)</text>
</svg>
</body></html>
